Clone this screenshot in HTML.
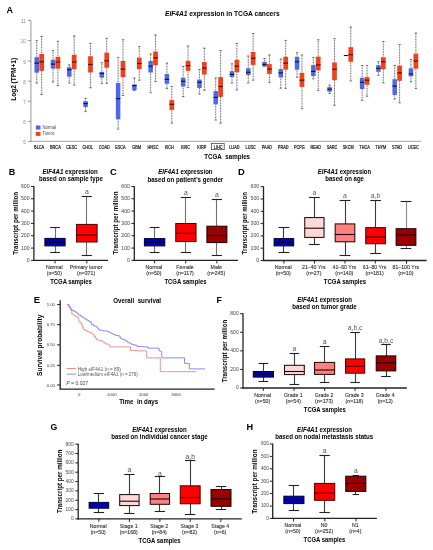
<!DOCTYPE html>
<html><head><meta charset="utf-8"><style>
html,body{margin:0;padding:0;background:#fff;}
body{width:433px;height:550px;overflow:hidden;}
svg{display:block;font-family:"Liberation Sans", sans-serif;filter:blur(0.45px);}
</style></head><body>
<svg width="433" height="550" viewBox="0 0 433 550">
<rect x="0" y="0" width="433" height="550" fill="#fff"/>
<text x="6.60" y="13.20" font-size="8.4" text-anchor="start" fill="#000" font-weight="bold" textLength="6.50" lengthAdjust="spacingAndGlyphs">A</text>
<text x="165.0" y="15.9" font-size="6.8" font-weight="bold" textLength="114.6" lengthAdjust="spacingAndGlyphs"><tspan font-style="italic">EIF4A1</tspan> expression in TCGA cancers</text>
<line x1="30.90" y1="20.40" x2="30.90" y2="141.60" stroke="#b4b4b4" stroke-width="1.4"/>
<line x1="30.20" y1="141.40" x2="421.20" y2="141.40" stroke="#b4b4b4" stroke-width="1.4"/>
<line x1="27.90" y1="20.40" x2="31.00" y2="20.40" stroke="#8a8a8a" stroke-width="0.9"/>
<text x="25.90" y="23.00" font-size="4.7" text-anchor="end" fill="#8a8a8a">11</text>
<line x1="27.90" y1="40.60" x2="31.00" y2="40.60" stroke="#8a8a8a" stroke-width="0.9"/>
<text x="25.90" y="43.20" font-size="4.7" text-anchor="end" fill="#8a8a8a">10</text>
<line x1="27.90" y1="61.10" x2="31.00" y2="61.10" stroke="#8a8a8a" stroke-width="0.9"/>
<text x="25.90" y="63.70" font-size="4.7" text-anchor="end" fill="#8a8a8a">9</text>
<line x1="27.90" y1="81.20" x2="31.00" y2="81.20" stroke="#8a8a8a" stroke-width="0.9"/>
<text x="25.90" y="83.80" font-size="4.7" text-anchor="end" fill="#8a8a8a">8</text>
<line x1="27.90" y1="101.30" x2="31.00" y2="101.30" stroke="#8a8a8a" stroke-width="0.9"/>
<text x="25.90" y="103.90" font-size="4.7" text-anchor="end" fill="#8a8a8a">7</text>
<line x1="27.90" y1="121.40" x2="31.00" y2="121.40" stroke="#8a8a8a" stroke-width="0.9"/>
<text x="25.90" y="124.00" font-size="4.7" text-anchor="end" fill="#8a8a8a">6</text>
<line x1="27.90" y1="141.40" x2="31.00" y2="141.40" stroke="#8a8a8a" stroke-width="0.9"/>
<text x="25.90" y="144.00" font-size="4.7" text-anchor="end" fill="#8a8a8a">5</text>
<text transform="translate(16.40,79.35) rotate(-90)" x="0" y="0" font-size="6.5" text-anchor="middle" fill="#000" font-weight="bold" textLength="43.00" lengthAdjust="spacingAndGlyphs">Log2 (TPM+1)</text>
<text transform="translate(39.10,148.7) scale(0.8,1)" font-size="4.8" text-anchor="middle" fill="#222" stroke="#222" stroke-width="0.22">BLCA</text>
<text transform="translate(55.37,148.7) scale(0.8,1)" font-size="4.8" text-anchor="middle" fill="#222" stroke="#222" stroke-width="0.22">BRCA</text>
<text transform="translate(71.64,148.7) scale(0.8,1)" font-size="4.8" text-anchor="middle" fill="#222" stroke="#222" stroke-width="0.22">CESC</text>
<text transform="translate(87.91,148.7) scale(0.8,1)" font-size="4.8" text-anchor="middle" fill="#222" stroke="#222" stroke-width="0.22">CHOL</text>
<text transform="translate(104.18,148.7) scale(0.8,1)" font-size="4.8" text-anchor="middle" fill="#222" stroke="#222" stroke-width="0.22">COAD</text>
<text transform="translate(120.45,148.7) scale(0.8,1)" font-size="4.8" text-anchor="middle" fill="#222" stroke="#222" stroke-width="0.22">ESCA</text>
<text transform="translate(136.72,148.7) scale(0.8,1)" font-size="4.8" text-anchor="middle" fill="#222" stroke="#222" stroke-width="0.22">GBM</text>
<text transform="translate(152.99,148.7) scale(0.8,1)" font-size="4.8" text-anchor="middle" fill="#222" stroke="#222" stroke-width="0.22">HNSC</text>
<text transform="translate(169.26,148.7) scale(0.8,1)" font-size="4.8" text-anchor="middle" fill="#222" stroke="#222" stroke-width="0.22">KICH</text>
<text transform="translate(185.53,148.7) scale(0.8,1)" font-size="4.8" text-anchor="middle" fill="#222" stroke="#222" stroke-width="0.22">KIRC</text>
<text transform="translate(201.80,148.7) scale(0.8,1)" font-size="4.8" text-anchor="middle" fill="#222" stroke="#222" stroke-width="0.22">KIRP</text>
<text transform="translate(218.07,148.7) scale(0.8,1)" font-size="4.8" text-anchor="middle" fill="#222" stroke="#222" stroke-width="0.22">LIHC</text>
<text transform="translate(234.34,148.7) scale(0.8,1)" font-size="4.8" text-anchor="middle" fill="#222" stroke="#222" stroke-width="0.22">LUAD</text>
<text transform="translate(250.61,148.7) scale(0.8,1)" font-size="4.8" text-anchor="middle" fill="#222" stroke="#222" stroke-width="0.22">LUSC</text>
<text transform="translate(266.88,148.7) scale(0.8,1)" font-size="4.8" text-anchor="middle" fill="#222" stroke="#222" stroke-width="0.22">PAAD</text>
<text transform="translate(283.15,148.7) scale(0.8,1)" font-size="4.8" text-anchor="middle" fill="#222" stroke="#222" stroke-width="0.22">PRAD</text>
<text transform="translate(299.42,148.7) scale(0.8,1)" font-size="4.8" text-anchor="middle" fill="#222" stroke="#222" stroke-width="0.22">PCPG</text>
<text transform="translate(315.69,148.7) scale(0.8,1)" font-size="4.8" text-anchor="middle" fill="#222" stroke="#222" stroke-width="0.22">READ</text>
<text transform="translate(331.96,148.7) scale(0.8,1)" font-size="4.8" text-anchor="middle" fill="#222" stroke="#222" stroke-width="0.22">SARC</text>
<text transform="translate(348.23,148.7) scale(0.8,1)" font-size="4.8" text-anchor="middle" fill="#222" stroke="#222" stroke-width="0.22">SKCM</text>
<text transform="translate(364.50,148.7) scale(0.8,1)" font-size="4.8" text-anchor="middle" fill="#222" stroke="#222" stroke-width="0.22">THCA</text>
<text transform="translate(380.77,148.7) scale(0.8,1)" font-size="4.8" text-anchor="middle" fill="#222" stroke="#222" stroke-width="0.22">THYM</text>
<text transform="translate(397.04,148.7) scale(0.8,1)" font-size="4.8" text-anchor="middle" fill="#222" stroke="#222" stroke-width="0.22">STAD</text>
<text transform="translate(413.31,148.7) scale(0.8,1)" font-size="4.8" text-anchor="middle" fill="#222" stroke="#222" stroke-width="0.22">UCEC</text>
<rect x="211.60" y="143.40" width="12.60" height="6.30" fill="none" stroke="#333" stroke-width="0.7"/>
<text x="204.20" y="158.90" font-size="6.8" text-anchor="start" fill="#000" font-weight="bold" textLength="45.90" lengthAdjust="spacingAndGlyphs">TCGA&#160;&#160;samples</text>
<rect x="35.80" y="125.50" width="4.70" height="4.10" fill="#4f69e6" stroke="none" stroke-width="0"/>
<rect x="35.80" y="131.90" width="4.70" height="4.00" fill="#f1411c" stroke="none" stroke-width="0"/>
<text x="42.40" y="128.80" font-size="4.9" text-anchor="start" fill="#444" textLength="13.50" lengthAdjust="spacingAndGlyphs">Normal</text>
<text x="42.60" y="135.00" font-size="4.9" text-anchor="start" fill="#444" textLength="11.40" lengthAdjust="spacingAndGlyphs">Tumor</text>
<line x1="36.75" y1="40.30" x2="36.75" y2="57.20" stroke="#4a4a4a" stroke-width="0.9" stroke-dasharray="0.9 0.7"/>
<line x1="36.75" y1="72.70" x2="36.75" y2="83.30" stroke="#4a4a4a" stroke-width="0.9" stroke-dasharray="0.9 0.7"/>
<line x1="35.55" y1="40.70" x2="37.95" y2="40.70" stroke="#666" stroke-width="0.9"/>
<line x1="35.55" y1="82.90" x2="37.95" y2="82.90" stroke="#666" stroke-width="0.9"/>
<rect x="34.50" y="57.20" width="4.50" height="15.50" fill="#4f69e6" stroke="none" stroke-width="0"/>
<line x1="34.50" y1="63.20" x2="39.00" y2="63.20" stroke="#101840" stroke-width="1.2"/>
<line x1="41.65" y1="36.00" x2="41.65" y2="54.00" stroke="#4a4a4a" stroke-width="0.9" stroke-dasharray="0.9 0.7"/>
<line x1="41.65" y1="70.90" x2="41.65" y2="94.90" stroke="#4a4a4a" stroke-width="0.9" stroke-dasharray="0.9 0.7"/>
<line x1="40.45" y1="36.40" x2="42.85" y2="36.40" stroke="#666" stroke-width="0.9"/>
<line x1="40.45" y1="94.50" x2="42.85" y2="94.50" stroke="#666" stroke-width="0.9"/>
<rect x="39.30" y="54.00" width="4.70" height="16.90" fill="#f1411c" stroke="none" stroke-width="0"/>
<line x1="39.30" y1="61.80" x2="44.00" y2="61.80" stroke="#5a1005" stroke-width="1.2"/>
<line x1="53.02" y1="50.30" x2="53.02" y2="59.70" stroke="#4a4a4a" stroke-width="0.9" stroke-dasharray="0.9 0.7"/>
<line x1="53.02" y1="68.70" x2="53.02" y2="82.30" stroke="#4a4a4a" stroke-width="0.9" stroke-dasharray="0.9 0.7"/>
<line x1="51.82" y1="50.70" x2="54.22" y2="50.70" stroke="#666" stroke-width="0.9"/>
<line x1="51.82" y1="81.90" x2="54.22" y2="81.90" stroke="#666" stroke-width="0.9"/>
<rect x="50.77" y="59.70" width="4.50" height="9.00" fill="#4f69e6" stroke="none" stroke-width="0"/>
<line x1="50.77" y1="64.10" x2="55.27" y2="64.10" stroke="#101840" stroke-width="1.2"/>
<line x1="57.92" y1="40.90" x2="57.92" y2="56.80" stroke="#4a4a4a" stroke-width="0.9" stroke-dasharray="0.9 0.7"/>
<line x1="57.92" y1="68.70" x2="57.92" y2="86.10" stroke="#4a4a4a" stroke-width="0.9" stroke-dasharray="0.9 0.7"/>
<line x1="56.72" y1="41.30" x2="59.12" y2="41.30" stroke="#666" stroke-width="0.9"/>
<line x1="56.72" y1="85.70" x2="59.12" y2="85.70" stroke="#666" stroke-width="0.9"/>
<rect x="55.57" y="56.80" width="4.70" height="11.90" fill="#f1411c" stroke="none" stroke-width="0"/>
<line x1="55.57" y1="62.00" x2="60.27" y2="62.00" stroke="#5a1005" stroke-width="1.2"/>
<line x1="69.29" y1="64.50" x2="69.29" y2="67.20" stroke="#4a4a4a" stroke-width="0.9" stroke-dasharray="0.9 0.7"/>
<line x1="69.29" y1="76.70" x2="69.29" y2="83.30" stroke="#4a4a4a" stroke-width="0.9" stroke-dasharray="0.9 0.7"/>
<line x1="68.09" y1="64.90" x2="70.49" y2="64.90" stroke="#666" stroke-width="0.9"/>
<line x1="68.09" y1="82.90" x2="70.49" y2="82.90" stroke="#666" stroke-width="0.9"/>
<rect x="67.04" y="67.20" width="4.50" height="9.50" fill="#4f69e6" stroke="none" stroke-width="0"/>
<line x1="67.04" y1="69.70" x2="71.54" y2="69.70" stroke="#101840" stroke-width="1.2"/>
<line x1="74.19" y1="35.60" x2="74.19" y2="54.70" stroke="#4a4a4a" stroke-width="0.9" stroke-dasharray="0.9 0.7"/>
<line x1="74.19" y1="69.30" x2="74.19" y2="85.40" stroke="#4a4a4a" stroke-width="0.9" stroke-dasharray="0.9 0.7"/>
<line x1="72.99" y1="36.00" x2="75.39" y2="36.00" stroke="#666" stroke-width="0.9"/>
<line x1="72.99" y1="85.00" x2="75.39" y2="85.00" stroke="#666" stroke-width="0.9"/>
<rect x="71.84" y="54.70" width="4.70" height="14.60" fill="#f1411c" stroke="none" stroke-width="0"/>
<line x1="71.84" y1="62.00" x2="76.54" y2="62.00" stroke="#5a1005" stroke-width="1.2"/>
<line x1="85.56" y1="98.00" x2="85.56" y2="101.10" stroke="#4a4a4a" stroke-width="0.9" stroke-dasharray="0.9 0.7"/>
<line x1="85.56" y1="107.00" x2="85.56" y2="112.00" stroke="#4a4a4a" stroke-width="0.9" stroke-dasharray="0.9 0.7"/>
<line x1="84.36" y1="98.40" x2="86.76" y2="98.40" stroke="#666" stroke-width="0.9"/>
<line x1="84.36" y1="111.60" x2="86.76" y2="111.60" stroke="#666" stroke-width="0.9"/>
<rect x="83.31" y="101.10" width="4.50" height="5.90" fill="#4f69e6" stroke="none" stroke-width="0"/>
<line x1="83.31" y1="103.60" x2="87.81" y2="103.60" stroke="#101840" stroke-width="1.2"/>
<line x1="90.46" y1="43.00" x2="90.46" y2="56.20" stroke="#4a4a4a" stroke-width="0.9" stroke-dasharray="0.9 0.7"/>
<line x1="90.46" y1="72.50" x2="90.46" y2="88.20" stroke="#4a4a4a" stroke-width="0.9" stroke-dasharray="0.9 0.7"/>
<line x1="89.26" y1="43.40" x2="91.66" y2="43.40" stroke="#666" stroke-width="0.9"/>
<line x1="89.26" y1="87.80" x2="91.66" y2="87.80" stroke="#666" stroke-width="0.9"/>
<rect x="88.11" y="56.20" width="4.70" height="16.30" fill="#f1411c" stroke="none" stroke-width="0"/>
<line x1="88.11" y1="64.50" x2="92.81" y2="64.50" stroke="#5a1005" stroke-width="1.2"/>
<line x1="101.83" y1="62.40" x2="101.83" y2="71.80" stroke="#4a4a4a" stroke-width="0.9" stroke-dasharray="0.9 0.7"/>
<line x1="101.83" y1="77.70" x2="101.83" y2="84.00" stroke="#4a4a4a" stroke-width="0.9" stroke-dasharray="0.9 0.7"/>
<line x1="100.63" y1="62.80" x2="103.03" y2="62.80" stroke="#666" stroke-width="0.9"/>
<line x1="100.63" y1="83.60" x2="103.03" y2="83.60" stroke="#666" stroke-width="0.9"/>
<rect x="99.58" y="71.80" width="4.50" height="5.90" fill="#4f69e6" stroke="none" stroke-width="0"/>
<line x1="99.58" y1="73.50" x2="104.08" y2="73.50" stroke="#101840" stroke-width="1.2"/>
<line x1="106.73" y1="38.00" x2="106.73" y2="52.60" stroke="#4a4a4a" stroke-width="0.9" stroke-dasharray="0.9 0.7"/>
<line x1="106.73" y1="67.70" x2="106.73" y2="83.80" stroke="#4a4a4a" stroke-width="0.9" stroke-dasharray="0.9 0.7"/>
<line x1="105.53" y1="38.40" x2="107.93" y2="38.40" stroke="#666" stroke-width="0.9"/>
<line x1="105.53" y1="83.40" x2="107.93" y2="83.40" stroke="#666" stroke-width="0.9"/>
<rect x="104.38" y="52.60" width="4.70" height="15.10" fill="#f1411c" stroke="none" stroke-width="0"/>
<line x1="104.38" y1="60.80" x2="109.08" y2="60.80" stroke="#5a1005" stroke-width="1.2"/>
<line x1="118.10" y1="57.20" x2="118.10" y2="82.90" stroke="#4a4a4a" stroke-width="0.9" stroke-dasharray="0.9 0.7"/>
<line x1="118.10" y1="119.30" x2="118.10" y2="129.40" stroke="#4a4a4a" stroke-width="0.9" stroke-dasharray="0.9 0.7"/>
<line x1="116.90" y1="57.60" x2="119.30" y2="57.60" stroke="#666" stroke-width="0.9"/>
<line x1="116.90" y1="129.00" x2="119.30" y2="129.00" stroke="#666" stroke-width="0.9"/>
<rect x="115.85" y="82.90" width="4.50" height="36.40" fill="#4f69e6" stroke="none" stroke-width="0"/>
<line x1="115.85" y1="98.60" x2="120.35" y2="98.60" stroke="#101840" stroke-width="1.2"/>
<line x1="123.00" y1="39.40" x2="123.00" y2="61.00" stroke="#4a4a4a" stroke-width="0.9" stroke-dasharray="0.9 0.7"/>
<line x1="123.00" y1="77.10" x2="123.00" y2="95.90" stroke="#4a4a4a" stroke-width="0.9" stroke-dasharray="0.9 0.7"/>
<line x1="121.80" y1="39.80" x2="124.20" y2="39.80" stroke="#666" stroke-width="0.9"/>
<line x1="121.80" y1="95.50" x2="124.20" y2="95.50" stroke="#666" stroke-width="0.9"/>
<rect x="120.65" y="61.00" width="4.70" height="16.10" fill="#f1411c" stroke="none" stroke-width="0"/>
<line x1="120.65" y1="69.10" x2="125.35" y2="69.10" stroke="#5a1005" stroke-width="1.2"/>
<line x1="134.37" y1="77.70" x2="134.37" y2="84.40" stroke="#4a4a4a" stroke-width="0.9" stroke-dasharray="0.9 0.7"/>
<line x1="134.37" y1="90.30" x2="134.37" y2="90.70" stroke="#4a4a4a" stroke-width="0.9" stroke-dasharray="0.9 0.7"/>
<line x1="133.17" y1="78.10" x2="135.57" y2="78.10" stroke="#666" stroke-width="0.9"/>
<line x1="133.17" y1="90.30" x2="135.57" y2="90.30" stroke="#666" stroke-width="0.9"/>
<rect x="132.12" y="84.40" width="4.50" height="5.90" fill="#4f69e6" stroke="none" stroke-width="0"/>
<line x1="132.12" y1="85.60" x2="136.62" y2="85.60" stroke="#101840" stroke-width="1.2"/>
<line x1="139.27" y1="46.30" x2="139.27" y2="57.60" stroke="#4a4a4a" stroke-width="0.9" stroke-dasharray="0.9 0.7"/>
<line x1="139.27" y1="69.10" x2="139.27" y2="80.60" stroke="#4a4a4a" stroke-width="0.9" stroke-dasharray="0.9 0.7"/>
<line x1="138.07" y1="46.70" x2="140.47" y2="46.70" stroke="#666" stroke-width="0.9"/>
<line x1="138.07" y1="80.20" x2="140.47" y2="80.20" stroke="#666" stroke-width="0.9"/>
<rect x="136.92" y="57.60" width="4.70" height="11.50" fill="#f1411c" stroke="none" stroke-width="0"/>
<line x1="136.92" y1="63.50" x2="141.62" y2="63.50" stroke="#5a1005" stroke-width="1.2"/>
<line x1="150.64" y1="53.60" x2="150.64" y2="61.00" stroke="#4a4a4a" stroke-width="0.9" stroke-dasharray="0.9 0.7"/>
<line x1="150.64" y1="72.50" x2="150.64" y2="93.20" stroke="#4a4a4a" stroke-width="0.9" stroke-dasharray="0.9 0.7"/>
<line x1="149.44" y1="54.00" x2="151.84" y2="54.00" stroke="#666" stroke-width="0.9"/>
<line x1="149.44" y1="92.80" x2="151.84" y2="92.80" stroke="#666" stroke-width="0.9"/>
<rect x="148.39" y="61.00" width="4.50" height="11.50" fill="#4f69e6" stroke="none" stroke-width="0"/>
<line x1="148.39" y1="66.20" x2="152.89" y2="66.20" stroke="#101840" stroke-width="1.2"/>
<line x1="155.54" y1="34.60" x2="155.54" y2="51.50" stroke="#4a4a4a" stroke-width="0.9" stroke-dasharray="0.9 0.7"/>
<line x1="155.54" y1="65.10" x2="155.54" y2="81.90" stroke="#4a4a4a" stroke-width="0.9" stroke-dasharray="0.9 0.7"/>
<line x1="154.34" y1="35.00" x2="156.74" y2="35.00" stroke="#666" stroke-width="0.9"/>
<line x1="154.34" y1="81.50" x2="156.74" y2="81.50" stroke="#666" stroke-width="0.9"/>
<rect x="153.19" y="51.50" width="4.70" height="13.60" fill="#f1411c" stroke="none" stroke-width="0"/>
<line x1="153.19" y1="57.80" x2="157.89" y2="57.80" stroke="#5a1005" stroke-width="1.2"/>
<line x1="166.91" y1="62.80" x2="166.91" y2="73.90" stroke="#4a4a4a" stroke-width="0.9" stroke-dasharray="0.9 0.7"/>
<line x1="166.91" y1="83.80" x2="166.91" y2="89.00" stroke="#4a4a4a" stroke-width="0.9" stroke-dasharray="0.9 0.7"/>
<line x1="165.71" y1="63.20" x2="168.11" y2="63.20" stroke="#666" stroke-width="0.9"/>
<line x1="165.71" y1="88.60" x2="168.11" y2="88.60" stroke="#666" stroke-width="0.9"/>
<rect x="164.66" y="73.90" width="4.50" height="9.90" fill="#4f69e6" stroke="none" stroke-width="0"/>
<line x1="164.66" y1="79.40" x2="169.16" y2="79.40" stroke="#101840" stroke-width="1.2"/>
<line x1="171.81" y1="86.10" x2="171.81" y2="100.10" stroke="#4a4a4a" stroke-width="0.9" stroke-dasharray="0.9 0.7"/>
<line x1="171.81" y1="109.90" x2="171.81" y2="123.50" stroke="#4a4a4a" stroke-width="0.9" stroke-dasharray="0.9 0.7"/>
<line x1="170.61" y1="86.50" x2="173.01" y2="86.50" stroke="#666" stroke-width="0.9"/>
<line x1="170.61" y1="123.10" x2="173.01" y2="123.10" stroke="#666" stroke-width="0.9"/>
<rect x="169.46" y="100.10" width="4.70" height="9.80" fill="#f1411c" stroke="none" stroke-width="0"/>
<line x1="169.46" y1="104.30" x2="174.16" y2="104.30" stroke="#5a1005" stroke-width="1.2"/>
<line x1="183.18" y1="66.00" x2="183.18" y2="77.70" stroke="#4a4a4a" stroke-width="0.9" stroke-dasharray="0.9 0.7"/>
<line x1="183.18" y1="86.50" x2="183.18" y2="96.90" stroke="#4a4a4a" stroke-width="0.9" stroke-dasharray="0.9 0.7"/>
<line x1="181.98" y1="66.40" x2="184.38" y2="66.40" stroke="#666" stroke-width="0.9"/>
<line x1="181.98" y1="96.50" x2="184.38" y2="96.50" stroke="#666" stroke-width="0.9"/>
<rect x="180.93" y="77.70" width="4.50" height="8.80" fill="#4f69e6" stroke="none" stroke-width="0"/>
<line x1="180.93" y1="81.30" x2="185.43" y2="81.30" stroke="#101840" stroke-width="1.2"/>
<line x1="188.08" y1="45.70" x2="188.08" y2="60.80" stroke="#4a4a4a" stroke-width="0.9" stroke-dasharray="0.9 0.7"/>
<line x1="188.08" y1="70.80" x2="188.08" y2="88.00" stroke="#4a4a4a" stroke-width="0.9" stroke-dasharray="0.9 0.7"/>
<line x1="186.88" y1="46.10" x2="189.28" y2="46.10" stroke="#666" stroke-width="0.9"/>
<line x1="186.88" y1="87.60" x2="189.28" y2="87.60" stroke="#666" stroke-width="0.9"/>
<rect x="185.73" y="60.80" width="4.70" height="10.00" fill="#f1411c" stroke="none" stroke-width="0"/>
<line x1="185.73" y1="65.60" x2="190.43" y2="65.60" stroke="#5a1005" stroke-width="1.2"/>
<line x1="199.45" y1="69.10" x2="199.45" y2="79.60" stroke="#4a4a4a" stroke-width="0.9" stroke-dasharray="0.9 0.7"/>
<line x1="199.45" y1="88.00" x2="199.45" y2="94.40" stroke="#4a4a4a" stroke-width="0.9" stroke-dasharray="0.9 0.7"/>
<line x1="198.25" y1="69.50" x2="200.65" y2="69.50" stroke="#666" stroke-width="0.9"/>
<line x1="198.25" y1="94.00" x2="200.65" y2="94.00" stroke="#666" stroke-width="0.9"/>
<rect x="197.20" y="79.60" width="4.50" height="8.40" fill="#4f69e6" stroke="none" stroke-width="0"/>
<line x1="197.20" y1="82.30" x2="201.70" y2="82.30" stroke="#101840" stroke-width="1.2"/>
<line x1="204.35" y1="47.80" x2="204.35" y2="62.00" stroke="#4a4a4a" stroke-width="0.9" stroke-dasharray="0.9 0.7"/>
<line x1="204.35" y1="74.60" x2="204.35" y2="90.70" stroke="#4a4a4a" stroke-width="0.9" stroke-dasharray="0.9 0.7"/>
<line x1="203.15" y1="48.20" x2="205.55" y2="48.20" stroke="#666" stroke-width="0.9"/>
<line x1="203.15" y1="90.30" x2="205.55" y2="90.30" stroke="#666" stroke-width="0.9"/>
<rect x="202.00" y="62.00" width="4.70" height="12.60" fill="#f1411c" stroke="none" stroke-width="0"/>
<line x1="202.00" y1="68.10" x2="206.70" y2="68.10" stroke="#5a1005" stroke-width="1.2"/>
<line x1="215.72" y1="77.70" x2="215.72" y2="91.10" stroke="#4a4a4a" stroke-width="0.9" stroke-dasharray="0.9 0.7"/>
<line x1="215.72" y1="104.30" x2="215.72" y2="120.40" stroke="#4a4a4a" stroke-width="0.9" stroke-dasharray="0.9 0.7"/>
<line x1="214.52" y1="78.10" x2="216.92" y2="78.10" stroke="#666" stroke-width="0.9"/>
<line x1="214.52" y1="120.00" x2="216.92" y2="120.00" stroke="#666" stroke-width="0.9"/>
<rect x="213.47" y="91.10" width="4.50" height="13.20" fill="#4f69e6" stroke="none" stroke-width="0"/>
<line x1="213.47" y1="97.40" x2="217.97" y2="97.40" stroke="#101840" stroke-width="1.2"/>
<line x1="220.62" y1="50.30" x2="220.62" y2="77.10" stroke="#4a4a4a" stroke-width="0.9" stroke-dasharray="0.9 0.7"/>
<line x1="220.62" y1="96.90" x2="220.62" y2="123.50" stroke="#4a4a4a" stroke-width="0.9" stroke-dasharray="0.9 0.7"/>
<line x1="219.42" y1="50.70" x2="221.82" y2="50.70" stroke="#666" stroke-width="0.9"/>
<line x1="219.42" y1="123.10" x2="221.82" y2="123.10" stroke="#666" stroke-width="0.9"/>
<rect x="218.27" y="77.10" width="4.70" height="19.80" fill="#f1411c" stroke="none" stroke-width="0"/>
<line x1="218.27" y1="86.50" x2="222.97" y2="86.50" stroke="#5a1005" stroke-width="1.2"/>
<line x1="231.99" y1="63.50" x2="231.99" y2="71.20" stroke="#4a4a4a" stroke-width="0.9" stroke-dasharray="0.9 0.7"/>
<line x1="231.99" y1="77.10" x2="231.99" y2="83.30" stroke="#4a4a4a" stroke-width="0.9" stroke-dasharray="0.9 0.7"/>
<line x1="230.79" y1="63.90" x2="233.19" y2="63.90" stroke="#666" stroke-width="0.9"/>
<line x1="230.79" y1="82.90" x2="233.19" y2="82.90" stroke="#666" stroke-width="0.9"/>
<rect x="229.74" y="71.20" width="4.50" height="5.90" fill="#4f69e6" stroke="none" stroke-width="0"/>
<line x1="229.74" y1="74.40" x2="234.24" y2="74.40" stroke="#101840" stroke-width="1.2"/>
<line x1="236.89" y1="43.20" x2="236.89" y2="59.70" stroke="#4a4a4a" stroke-width="0.9" stroke-dasharray="0.9 0.7"/>
<line x1="236.89" y1="72.30" x2="236.89" y2="90.30" stroke="#4a4a4a" stroke-width="0.9" stroke-dasharray="0.9 0.7"/>
<line x1="235.69" y1="43.60" x2="238.09" y2="43.60" stroke="#666" stroke-width="0.9"/>
<line x1="235.69" y1="89.90" x2="238.09" y2="89.90" stroke="#666" stroke-width="0.9"/>
<rect x="234.54" y="59.70" width="4.70" height="12.60" fill="#f1411c" stroke="none" stroke-width="0"/>
<line x1="234.54" y1="66.20" x2="239.24" y2="66.20" stroke="#5a1005" stroke-width="1.2"/>
<line x1="248.26" y1="55.70" x2="248.26" y2="68.30" stroke="#4a4a4a" stroke-width="0.9" stroke-dasharray="0.9 0.7"/>
<line x1="248.26" y1="75.00" x2="248.26" y2="83.30" stroke="#4a4a4a" stroke-width="0.9" stroke-dasharray="0.9 0.7"/>
<line x1="247.06" y1="56.10" x2="249.46" y2="56.10" stroke="#666" stroke-width="0.9"/>
<line x1="247.06" y1="82.90" x2="249.46" y2="82.90" stroke="#666" stroke-width="0.9"/>
<rect x="246.01" y="68.30" width="4.50" height="6.70" fill="#4f69e6" stroke="none" stroke-width="0"/>
<line x1="246.01" y1="72.30" x2="250.51" y2="72.30" stroke="#101840" stroke-width="1.2"/>
<line x1="253.16" y1="33.10" x2="253.16" y2="52.00" stroke="#4a4a4a" stroke-width="0.9" stroke-dasharray="0.9 0.7"/>
<line x1="253.16" y1="64.90" x2="253.16" y2="80.60" stroke="#4a4a4a" stroke-width="0.9" stroke-dasharray="0.9 0.7"/>
<line x1="251.96" y1="33.50" x2="254.36" y2="33.50" stroke="#666" stroke-width="0.9"/>
<line x1="251.96" y1="80.20" x2="254.36" y2="80.20" stroke="#666" stroke-width="0.9"/>
<rect x="250.81" y="52.00" width="4.70" height="12.90" fill="#f1411c" stroke="none" stroke-width="0"/>
<line x1="250.81" y1="58.20" x2="255.51" y2="58.20" stroke="#5a1005" stroke-width="1.2"/>
<line x1="264.53" y1="58.20" x2="264.53" y2="61.80" stroke="#4a4a4a" stroke-width="0.9" stroke-dasharray="0.9 0.7"/>
<line x1="264.53" y1="66.60" x2="264.53" y2="66.60" stroke="#4a4a4a" stroke-width="0.9" stroke-dasharray="0.9 0.7"/>
<line x1="263.33" y1="58.60" x2="265.73" y2="58.60" stroke="#666" stroke-width="0.9"/>
<line x1="263.33" y1="66.20" x2="265.73" y2="66.20" stroke="#666" stroke-width="0.9"/>
<rect x="262.28" y="61.80" width="4.50" height="4.80" fill="#4f69e6" stroke="none" stroke-width="0"/>
<line x1="262.28" y1="64.50" x2="266.78" y2="64.50" stroke="#101840" stroke-width="1.2"/>
<line x1="269.43" y1="54.70" x2="269.43" y2="64.10" stroke="#4a4a4a" stroke-width="0.9" stroke-dasharray="0.9 0.7"/>
<line x1="269.43" y1="73.90" x2="269.43" y2="82.70" stroke="#4a4a4a" stroke-width="0.9" stroke-dasharray="0.9 0.7"/>
<line x1="268.23" y1="55.10" x2="270.63" y2="55.10" stroke="#666" stroke-width="0.9"/>
<line x1="268.23" y1="82.30" x2="270.63" y2="82.30" stroke="#666" stroke-width="0.9"/>
<rect x="267.08" y="64.10" width="4.70" height="9.80" fill="#f1411c" stroke="none" stroke-width="0"/>
<line x1="267.08" y1="69.10" x2="271.78" y2="69.10" stroke="#5a1005" stroke-width="1.2"/>
<line x1="280.80" y1="58.70" x2="280.80" y2="69.10" stroke="#4a4a4a" stroke-width="0.9" stroke-dasharray="0.9 0.7"/>
<line x1="280.80" y1="77.50" x2="280.80" y2="88.60" stroke="#4a4a4a" stroke-width="0.9" stroke-dasharray="0.9 0.7"/>
<line x1="279.60" y1="59.10" x2="282.00" y2="59.10" stroke="#666" stroke-width="0.9"/>
<line x1="279.60" y1="88.20" x2="282.00" y2="88.20" stroke="#666" stroke-width="0.9"/>
<rect x="278.55" y="69.10" width="4.50" height="8.40" fill="#4f69e6" stroke="none" stroke-width="0"/>
<line x1="278.55" y1="72.90" x2="283.05" y2="72.90" stroke="#101840" stroke-width="1.2"/>
<line x1="285.70" y1="40.00" x2="285.70" y2="56.80" stroke="#4a4a4a" stroke-width="0.9" stroke-dasharray="0.9 0.7"/>
<line x1="285.70" y1="69.70" x2="285.70" y2="89.00" stroke="#4a4a4a" stroke-width="0.9" stroke-dasharray="0.9 0.7"/>
<line x1="284.50" y1="40.40" x2="286.90" y2="40.40" stroke="#666" stroke-width="0.9"/>
<line x1="284.50" y1="88.60" x2="286.90" y2="88.60" stroke="#666" stroke-width="0.9"/>
<rect x="283.35" y="56.80" width="4.70" height="12.90" fill="#f1411c" stroke="none" stroke-width="0"/>
<line x1="283.35" y1="63.10" x2="288.05" y2="63.10" stroke="#5a1005" stroke-width="1.2"/>
<line x1="297.07" y1="52.40" x2="297.07" y2="56.80" stroke="#4a4a4a" stroke-width="0.9" stroke-dasharray="0.9 0.7"/>
<line x1="297.07" y1="69.70" x2="297.07" y2="77.70" stroke="#4a4a4a" stroke-width="0.9" stroke-dasharray="0.9 0.7"/>
<line x1="295.87" y1="52.80" x2="298.27" y2="52.80" stroke="#666" stroke-width="0.9"/>
<line x1="295.87" y1="77.30" x2="298.27" y2="77.30" stroke="#666" stroke-width="0.9"/>
<rect x="294.82" y="56.80" width="4.50" height="12.90" fill="#4f69e6" stroke="none" stroke-width="0"/>
<line x1="294.82" y1="61.80" x2="299.32" y2="61.80" stroke="#101840" stroke-width="1.2"/>
<line x1="301.97" y1="54.70" x2="301.97" y2="72.90" stroke="#4a4a4a" stroke-width="0.9" stroke-dasharray="0.9 0.7"/>
<line x1="301.97" y1="86.90" x2="301.97" y2="109.10" stroke="#4a4a4a" stroke-width="0.9" stroke-dasharray="0.9 0.7"/>
<line x1="300.77" y1="55.10" x2="303.17" y2="55.10" stroke="#666" stroke-width="0.9"/>
<line x1="300.77" y1="108.70" x2="303.17" y2="108.70" stroke="#666" stroke-width="0.9"/>
<rect x="299.62" y="72.90" width="4.70" height="14.00" fill="#f1411c" stroke="none" stroke-width="0"/>
<line x1="299.62" y1="80.20" x2="304.32" y2="80.20" stroke="#5a1005" stroke-width="1.2"/>
<line x1="313.34" y1="57.20" x2="313.34" y2="65.10" stroke="#4a4a4a" stroke-width="0.9" stroke-dasharray="0.9 0.7"/>
<line x1="313.34" y1="76.00" x2="313.34" y2="79.20" stroke="#4a4a4a" stroke-width="0.9" stroke-dasharray="0.9 0.7"/>
<line x1="312.14" y1="57.60" x2="314.54" y2="57.60" stroke="#666" stroke-width="0.9"/>
<line x1="312.14" y1="78.80" x2="314.54" y2="78.80" stroke="#666" stroke-width="0.9"/>
<rect x="311.09" y="65.10" width="4.50" height="10.90" fill="#4f69e6" stroke="none" stroke-width="0"/>
<line x1="311.09" y1="71.40" x2="315.59" y2="71.40" stroke="#101840" stroke-width="1.2"/>
<line x1="318.24" y1="39.40" x2="318.24" y2="56.60" stroke="#4a4a4a" stroke-width="0.9" stroke-dasharray="0.9 0.7"/>
<line x1="318.24" y1="70.40" x2="318.24" y2="90.70" stroke="#4a4a4a" stroke-width="0.9" stroke-dasharray="0.9 0.7"/>
<line x1="317.04" y1="39.80" x2="319.44" y2="39.80" stroke="#666" stroke-width="0.9"/>
<line x1="317.04" y1="90.30" x2="319.44" y2="90.30" stroke="#666" stroke-width="0.9"/>
<rect x="315.89" y="56.60" width="4.70" height="13.80" fill="#f1411c" stroke="none" stroke-width="0"/>
<line x1="315.89" y1="64.90" x2="320.59" y2="64.90" stroke="#5a1005" stroke-width="1.2"/>
<line x1="329.61" y1="84.80" x2="329.61" y2="87.10" stroke="#4a4a4a" stroke-width="0.9" stroke-dasharray="0.9 0.7"/>
<line x1="329.61" y1="91.70" x2="329.61" y2="93.80" stroke="#4a4a4a" stroke-width="0.9" stroke-dasharray="0.9 0.7"/>
<line x1="328.41" y1="85.20" x2="330.81" y2="85.20" stroke="#666" stroke-width="0.9"/>
<line x1="328.41" y1="93.40" x2="330.81" y2="93.40" stroke="#666" stroke-width="0.9"/>
<rect x="327.36" y="87.10" width="4.50" height="4.60" fill="#4f69e6" stroke="none" stroke-width="0"/>
<line x1="327.36" y1="89.20" x2="331.86" y2="89.20" stroke="#101840" stroke-width="1.2"/>
<line x1="334.51" y1="38.30" x2="334.51" y2="62.40" stroke="#4a4a4a" stroke-width="0.9" stroke-dasharray="0.9 0.7"/>
<line x1="334.51" y1="80.20" x2="334.51" y2="105.70" stroke="#4a4a4a" stroke-width="0.9" stroke-dasharray="0.9 0.7"/>
<line x1="333.31" y1="38.70" x2="335.71" y2="38.70" stroke="#666" stroke-width="0.9"/>
<line x1="333.31" y1="105.30" x2="335.71" y2="105.30" stroke="#666" stroke-width="0.9"/>
<rect x="332.16" y="62.40" width="4.70" height="17.80" fill="#f1411c" stroke="none" stroke-width="0"/>
<line x1="332.16" y1="69.30" x2="336.86" y2="69.30" stroke="#5a1005" stroke-width="1.2"/>
<line x1="343.83" y1="55.50" x2="348.13" y2="55.50" stroke="#111" stroke-width="1.1"/>
<line x1="350.78" y1="26.60" x2="350.78" y2="47.20" stroke="#4a4a4a" stroke-width="0.9" stroke-dasharray="0.9 0.7"/>
<line x1="350.78" y1="61.80" x2="350.78" y2="81.30" stroke="#4a4a4a" stroke-width="0.9" stroke-dasharray="0.9 0.7"/>
<line x1="349.58" y1="27.00" x2="351.98" y2="27.00" stroke="#666" stroke-width="0.9"/>
<line x1="349.58" y1="80.90" x2="351.98" y2="80.90" stroke="#666" stroke-width="0.9"/>
<rect x="348.43" y="47.20" width="4.70" height="14.60" fill="#f1411c" stroke="none" stroke-width="0"/>
<line x1="348.43" y1="54.70" x2="353.13" y2="54.70" stroke="#5a1005" stroke-width="1.2"/>
<line x1="362.15" y1="65.10" x2="362.15" y2="77.70" stroke="#4a4a4a" stroke-width="0.9" stroke-dasharray="0.9 0.7"/>
<line x1="362.15" y1="89.00" x2="362.15" y2="100.70" stroke="#4a4a4a" stroke-width="0.9" stroke-dasharray="0.9 0.7"/>
<line x1="360.95" y1="65.50" x2="363.35" y2="65.50" stroke="#666" stroke-width="0.9"/>
<line x1="360.95" y1="100.30" x2="363.35" y2="100.30" stroke="#666" stroke-width="0.9"/>
<rect x="359.90" y="77.70" width="4.50" height="11.30" fill="#4f69e6" stroke="none" stroke-width="0"/>
<line x1="359.90" y1="82.30" x2="364.40" y2="82.30" stroke="#101840" stroke-width="1.2"/>
<line x1="367.05" y1="65.10" x2="367.05" y2="77.10" stroke="#4a4a4a" stroke-width="0.9" stroke-dasharray="0.9 0.7"/>
<line x1="367.05" y1="84.80" x2="367.05" y2="96.50" stroke="#4a4a4a" stroke-width="0.9" stroke-dasharray="0.9 0.7"/>
<line x1="365.85" y1="65.50" x2="368.25" y2="65.50" stroke="#666" stroke-width="0.9"/>
<line x1="365.85" y1="96.10" x2="368.25" y2="96.10" stroke="#666" stroke-width="0.9"/>
<rect x="364.70" y="77.10" width="4.70" height="7.70" fill="#f1411c" stroke="none" stroke-width="0"/>
<line x1="364.70" y1="80.20" x2="369.40" y2="80.20" stroke="#5a1005" stroke-width="1.2"/>
<line x1="378.42" y1="61.40" x2="378.42" y2="65.10" stroke="#4a4a4a" stroke-width="0.9" stroke-dasharray="0.9 0.7"/>
<line x1="378.42" y1="71.80" x2="378.42" y2="75.60" stroke="#4a4a4a" stroke-width="0.9" stroke-dasharray="0.9 0.7"/>
<line x1="377.22" y1="61.80" x2="379.62" y2="61.80" stroke="#666" stroke-width="0.9"/>
<line x1="377.22" y1="75.20" x2="379.62" y2="75.20" stroke="#666" stroke-width="0.9"/>
<rect x="376.17" y="65.10" width="4.50" height="6.70" fill="#4f69e6" stroke="none" stroke-width="0"/>
<line x1="376.17" y1="68.30" x2="380.67" y2="68.30" stroke="#101840" stroke-width="1.2"/>
<line x1="383.32" y1="41.10" x2="383.32" y2="57.20" stroke="#4a4a4a" stroke-width="0.9" stroke-dasharray="0.9 0.7"/>
<line x1="383.32" y1="69.10" x2="383.32" y2="83.30" stroke="#4a4a4a" stroke-width="0.9" stroke-dasharray="0.9 0.7"/>
<line x1="382.12" y1="41.50" x2="384.52" y2="41.50" stroke="#666" stroke-width="0.9"/>
<line x1="382.12" y1="82.90" x2="384.52" y2="82.90" stroke="#666" stroke-width="0.9"/>
<rect x="380.97" y="57.20" width="4.70" height="11.90" fill="#f1411c" stroke="none" stroke-width="0"/>
<line x1="380.97" y1="61.80" x2="385.67" y2="61.80" stroke="#5a1005" stroke-width="1.2"/>
<line x1="394.69" y1="65.10" x2="394.69" y2="79.20" stroke="#4a4a4a" stroke-width="0.9" stroke-dasharray="0.9 0.7"/>
<line x1="394.69" y1="94.90" x2="394.69" y2="99.50" stroke="#4a4a4a" stroke-width="0.9" stroke-dasharray="0.9 0.7"/>
<line x1="393.49" y1="65.50" x2="395.89" y2="65.50" stroke="#666" stroke-width="0.9"/>
<line x1="393.49" y1="99.10" x2="395.89" y2="99.10" stroke="#666" stroke-width="0.9"/>
<rect x="392.44" y="79.20" width="4.50" height="15.70" fill="#4f69e6" stroke="none" stroke-width="0"/>
<line x1="392.44" y1="86.10" x2="396.94" y2="86.10" stroke="#101840" stroke-width="1.2"/>
<line x1="399.59" y1="44.20" x2="399.59" y2="65.60" stroke="#4a4a4a" stroke-width="0.9" stroke-dasharray="0.9 0.7"/>
<line x1="399.59" y1="80.80" x2="399.59" y2="103.20" stroke="#4a4a4a" stroke-width="0.9" stroke-dasharray="0.9 0.7"/>
<line x1="398.39" y1="44.60" x2="400.79" y2="44.60" stroke="#666" stroke-width="0.9"/>
<line x1="398.39" y1="102.80" x2="400.79" y2="102.80" stroke="#666" stroke-width="0.9"/>
<rect x="397.24" y="65.60" width="4.70" height="15.20" fill="#f1411c" stroke="none" stroke-width="0"/>
<line x1="397.24" y1="72.90" x2="401.94" y2="72.90" stroke="#5a1005" stroke-width="1.2"/>
<line x1="410.96" y1="59.30" x2="410.96" y2="68.30" stroke="#4a4a4a" stroke-width="0.9" stroke-dasharray="0.9 0.7"/>
<line x1="410.96" y1="76.40" x2="410.96" y2="82.30" stroke="#4a4a4a" stroke-width="0.9" stroke-dasharray="0.9 0.7"/>
<line x1="409.76" y1="59.70" x2="412.16" y2="59.70" stroke="#666" stroke-width="0.9"/>
<line x1="409.76" y1="81.90" x2="412.16" y2="81.90" stroke="#666" stroke-width="0.9"/>
<rect x="408.71" y="68.30" width="4.50" height="8.10" fill="#4f69e6" stroke="none" stroke-width="0"/>
<line x1="408.71" y1="73.90" x2="413.21" y2="73.90" stroke="#101840" stroke-width="1.2"/>
<line x1="415.86" y1="32.70" x2="415.86" y2="53.60" stroke="#4a4a4a" stroke-width="0.9" stroke-dasharray="0.9 0.7"/>
<line x1="415.86" y1="68.70" x2="415.86" y2="89.00" stroke="#4a4a4a" stroke-width="0.9" stroke-dasharray="0.9 0.7"/>
<line x1="414.66" y1="33.10" x2="417.06" y2="33.10" stroke="#666" stroke-width="0.9"/>
<line x1="414.66" y1="88.60" x2="417.06" y2="88.60" stroke="#666" stroke-width="0.9"/>
<rect x="413.51" y="53.60" width="4.70" height="15.10" fill="#f1411c" stroke="none" stroke-width="0"/>
<line x1="413.51" y1="61.00" x2="418.21" y2="61.00" stroke="#5a1005" stroke-width="1.2"/>
<text x="8.70" y="174.90" font-size="8.4" text-anchor="start" fill="#000" font-weight="bold" textLength="6.50" lengthAdjust="spacingAndGlyphs">B</text>
<text x="70.1" y="174.1" font-size="6.5" font-weight="bold" text-anchor="middle" textLength="55.2" lengthAdjust="spacingAndGlyphs"><tspan font-style="italic">EIF4A1</tspan> expression</text>
<text x="70.95" y="181.30" font-size="6.5" text-anchor="middle" fill="#000" font-weight="bold" textLength="63.70" lengthAdjust="spacingAndGlyphs">based on sample type</text>
<text transform="translate(17.55,223.30) rotate(-90)" x="0" y="0" font-size="6.6" text-anchor="middle" fill="#000" font-weight="bold" textLength="62.90" lengthAdjust="spacingAndGlyphs">Transcript per million</text>
<line x1="33.90" y1="185.92" x2="33.90" y2="260.90" stroke="#222" stroke-width="1.3"/>
<line x1="31.00" y1="260.40" x2="33.90" y2="260.40" stroke="#222" stroke-width="1.0"/>
<text x="29.60" y="261.86" font-size="5.2" text-anchor="end" fill="#444">0</text>
<line x1="31.00" y1="248.07" x2="33.90" y2="248.07" stroke="#222" stroke-width="1.0"/>
<text x="29.60" y="249.53" font-size="5.2" text-anchor="end" fill="#444">100</text>
<line x1="31.00" y1="235.74" x2="33.90" y2="235.74" stroke="#222" stroke-width="1.0"/>
<text x="29.60" y="237.20" font-size="5.2" text-anchor="end" fill="#444">200</text>
<line x1="31.00" y1="223.41" x2="33.90" y2="223.41" stroke="#222" stroke-width="1.0"/>
<text x="29.60" y="224.87" font-size="5.2" text-anchor="end" fill="#444">300</text>
<line x1="31.00" y1="211.08" x2="33.90" y2="211.08" stroke="#222" stroke-width="1.0"/>
<text x="29.60" y="212.54" font-size="5.2" text-anchor="end" fill="#444">400</text>
<line x1="31.00" y1="198.75" x2="33.90" y2="198.75" stroke="#222" stroke-width="1.0"/>
<text x="29.60" y="200.21" font-size="5.2" text-anchor="end" fill="#444">500</text>
<line x1="31.00" y1="186.42" x2="33.90" y2="186.42" stroke="#222" stroke-width="1.0"/>
<text x="29.60" y="187.88" font-size="5.2" text-anchor="end" fill="#444">600</text>
<line x1="33.30" y1="260.40" x2="108.00" y2="260.40" stroke="#222" stroke-width="1.3"/>
<line x1="55.00" y1="260.40" x2="55.00" y2="263.40" stroke="#222" stroke-width="1.0"/>
<line x1="86.80" y1="260.40" x2="86.80" y2="263.40" stroke="#222" stroke-width="1.0"/>
<line x1="55.50" y1="227.60" x2="55.50" y2="238.40" stroke="#707070" stroke-width="1.1"/>
<line x1="55.50" y1="245.90" x2="55.50" y2="252.20" stroke="#707070" stroke-width="1.1"/>
<line x1="50.10" y1="227.50" x2="59.90" y2="227.50" stroke="#222" stroke-width="1.1"/>
<line x1="50.10" y1="252.50" x2="59.90" y2="252.50" stroke="#222" stroke-width="1.1"/>
<rect x="44.90" y="238.40" width="20.20" height="7.50" fill="#0000b8" stroke="#000030" stroke-width="1.0"/>
<line x1="44.90" y1="242.40" x2="65.10" y2="242.40" stroke="#000030" stroke-width="1.1"/>
<line x1="86.50" y1="196.70" x2="86.50" y2="224.40" stroke="#707070" stroke-width="1.1"/>
<line x1="86.50" y1="242.00" x2="86.50" y2="255.10" stroke="#707070" stroke-width="1.1"/>
<line x1="81.70" y1="196.50" x2="91.90" y2="196.50" stroke="#222" stroke-width="1.1"/>
<line x1="81.70" y1="255.50" x2="91.90" y2="255.50" stroke="#222" stroke-width="1.1"/>
<rect x="76.50" y="224.40" width="20.60" height="17.60" fill="#ff0000" stroke="#4a0000" stroke-width="1.0"/>
<line x1="76.50" y1="235.00" x2="97.10" y2="235.00" stroke="#4a0000" stroke-width="1.1"/>
<text x="86.80" y="193.50" font-size="6.8" text-anchor="middle" fill="#555">a</text>
<text x="54.30" y="268.90" font-size="5.2" text-anchor="middle" fill="#333" stroke="#333" stroke-width="0.12">Normal</text>
<text x="54.30" y="274.80" font-size="5.2" text-anchor="middle" fill="#333" stroke="#333" stroke-width="0.12">(n=50)</text>
<text x="86.10" y="268.90" font-size="5.2" text-anchor="middle" fill="#333" stroke="#333" stroke-width="0.12">Primary tumor</text>
<text x="86.10" y="274.80" font-size="5.2" text-anchor="middle" fill="#333" stroke="#333" stroke-width="0.12">(n=371)</text>
<text x="71.05" y="284.10" font-size="6.5" text-anchor="middle" fill="#000" font-weight="bold" textLength="41.70" lengthAdjust="spacingAndGlyphs">TCGA samples</text>
<text x="110.10" y="174.90" font-size="8.4" text-anchor="start" fill="#000" font-weight="bold" textLength="6.80" lengthAdjust="spacingAndGlyphs">C</text>
<text x="185.45" y="174.2" font-size="6.5" font-weight="bold" text-anchor="middle" textLength="54.3" lengthAdjust="spacingAndGlyphs"><tspan font-style="italic">EIF4A1</tspan> expression</text>
<text x="185.30" y="181.50" font-size="6.5" text-anchor="middle" fill="#000" font-weight="bold" textLength="75.80" lengthAdjust="spacingAndGlyphs">based on patient's gender</text>
<text transform="translate(117.75,222.90) rotate(-90)" x="0" y="0" font-size="6.6" text-anchor="middle" fill="#000" font-weight="bold" textLength="63.00" lengthAdjust="spacingAndGlyphs">Transcript per million</text>
<line x1="134.30" y1="185.92" x2="134.30" y2="260.90" stroke="#222" stroke-width="1.3"/>
<line x1="131.40" y1="260.40" x2="134.30" y2="260.40" stroke="#222" stroke-width="1.0"/>
<text x="130.00" y="261.86" font-size="5.2" text-anchor="end" fill="#444">0</text>
<line x1="131.40" y1="248.07" x2="134.30" y2="248.07" stroke="#222" stroke-width="1.0"/>
<text x="130.00" y="249.53" font-size="5.2" text-anchor="end" fill="#444">100</text>
<line x1="131.40" y1="235.74" x2="134.30" y2="235.74" stroke="#222" stroke-width="1.0"/>
<text x="130.00" y="237.20" font-size="5.2" text-anchor="end" fill="#444">200</text>
<line x1="131.40" y1="223.41" x2="134.30" y2="223.41" stroke="#222" stroke-width="1.0"/>
<text x="130.00" y="224.87" font-size="5.2" text-anchor="end" fill="#444">300</text>
<line x1="131.40" y1="211.08" x2="134.30" y2="211.08" stroke="#222" stroke-width="1.0"/>
<text x="130.00" y="212.54" font-size="5.2" text-anchor="end" fill="#444">400</text>
<line x1="131.40" y1="198.75" x2="134.30" y2="198.75" stroke="#222" stroke-width="1.0"/>
<text x="130.00" y="200.21" font-size="5.2" text-anchor="end" fill="#444">500</text>
<line x1="131.40" y1="186.42" x2="134.30" y2="186.42" stroke="#222" stroke-width="1.0"/>
<text x="130.00" y="187.88" font-size="5.2" text-anchor="end" fill="#444">600</text>
<line x1="133.70" y1="260.40" x2="238.00" y2="260.40" stroke="#222" stroke-width="1.3"/>
<line x1="154.60" y1="260.40" x2="154.60" y2="263.40" stroke="#222" stroke-width="1.0"/>
<line x1="185.70" y1="260.40" x2="185.70" y2="263.40" stroke="#222" stroke-width="1.0"/>
<line x1="216.90" y1="260.40" x2="216.90" y2="263.40" stroke="#222" stroke-width="1.0"/>
<line x1="154.50" y1="227.60" x2="154.50" y2="238.60" stroke="#707070" stroke-width="1.1"/>
<line x1="154.50" y1="245.90" x2="154.50" y2="252.20" stroke="#707070" stroke-width="1.1"/>
<line x1="149.70" y1="227.50" x2="159.50" y2="227.50" stroke="#222" stroke-width="1.1"/>
<line x1="149.70" y1="252.50" x2="159.50" y2="252.50" stroke="#222" stroke-width="1.1"/>
<rect x="144.40" y="238.60" width="20.40" height="7.30" fill="#0000b8" stroke="#000030" stroke-width="1.0"/>
<line x1="144.40" y1="242.30" x2="164.80" y2="242.30" stroke="#000030" stroke-width="1.1"/>
<line x1="185.50" y1="197.20" x2="185.50" y2="223.50" stroke="#707070" stroke-width="1.1"/>
<line x1="185.50" y1="241.60" x2="185.50" y2="252.60" stroke="#707070" stroke-width="1.1"/>
<line x1="180.80" y1="197.50" x2="191.00" y2="197.50" stroke="#222" stroke-width="1.1"/>
<line x1="180.80" y1="252.50" x2="191.00" y2="252.50" stroke="#222" stroke-width="1.1"/>
<rect x="175.75" y="223.50" width="20.30" height="18.10" fill="#ff0000" stroke="#4a0000" stroke-width="1.0"/>
<line x1="175.75" y1="233.30" x2="196.05" y2="233.30" stroke="#4a0000" stroke-width="1.1"/>
<line x1="216.50" y1="199.60" x2="216.50" y2="226.20" stroke="#707070" stroke-width="1.1"/>
<line x1="216.50" y1="242.60" x2="216.50" y2="255.30" stroke="#707070" stroke-width="1.1"/>
<line x1="211.80" y1="199.50" x2="222.00" y2="199.50" stroke="#222" stroke-width="1.1"/>
<line x1="211.80" y1="255.50" x2="222.00" y2="255.50" stroke="#222" stroke-width="1.1"/>
<rect x="206.90" y="226.20" width="20.00" height="16.40" fill="#9a0000" stroke="#1a0000" stroke-width="1.0"/>
<line x1="206.90" y1="235.50" x2="226.90" y2="235.50" stroke="#1a0000" stroke-width="1.1"/>
<text x="185.90" y="194.80" font-size="6.8" text-anchor="middle" fill="#555">a</text>
<text x="216.90" y="197.20" font-size="6.8" text-anchor="middle" fill="#555">a</text>
<text x="153.90" y="269.00" font-size="5.2" text-anchor="middle" fill="#333" stroke="#333" stroke-width="0.12">Normal</text>
<text x="153.90" y="274.90" font-size="5.2" text-anchor="middle" fill="#333" stroke="#333" stroke-width="0.12">(n=50)</text>
<text x="185.00" y="269.00" font-size="5.2" text-anchor="middle" fill="#333" stroke="#333" stroke-width="0.12">Female</text>
<text x="185.00" y="274.90" font-size="5.2" text-anchor="middle" fill="#333" stroke="#333" stroke-width="0.12">(n=117)</text>
<text x="216.20" y="269.00" font-size="5.2" text-anchor="middle" fill="#333" stroke="#333" stroke-width="0.12">Male</text>
<text x="216.20" y="274.90" font-size="5.2" text-anchor="middle" fill="#333" stroke="#333" stroke-width="0.12">(n=245)</text>
<text x="185.50" y="283.80" font-size="6.5" text-anchor="middle" fill="#000" font-weight="bold" textLength="42.10" lengthAdjust="spacingAndGlyphs">TCGA samples</text>
<text x="238.10" y="174.90" font-size="8.4" text-anchor="start" fill="#000" font-weight="bold" textLength="6.80" lengthAdjust="spacingAndGlyphs">D</text>
<text x="344.5" y="174.2" font-size="6.5" font-weight="bold" text-anchor="middle" textLength="53.3" lengthAdjust="spacingAndGlyphs"><tspan font-style="italic">EIF4A1</tspan> expression</text>
<text x="344.60" y="181.30" font-size="6.5" text-anchor="middle" fill="#000" font-weight="bold" textLength="38.80" lengthAdjust="spacingAndGlyphs">based on age</text>
<text transform="translate(247.25,223.20) rotate(-90)" x="0" y="0" font-size="6.6" text-anchor="middle" fill="#000" font-weight="bold" textLength="62.40" lengthAdjust="spacingAndGlyphs">Transcript per million</text>
<line x1="263.50" y1="186.20" x2="263.50" y2="261.00" stroke="#222" stroke-width="1.3"/>
<line x1="260.60" y1="260.50" x2="263.50" y2="260.50" stroke="#222" stroke-width="1.0"/>
<text x="259.20" y="261.96" font-size="5.2" text-anchor="end" fill="#444">0</text>
<line x1="260.60" y1="248.20" x2="263.50" y2="248.20" stroke="#222" stroke-width="1.0"/>
<text x="259.20" y="249.66" font-size="5.2" text-anchor="end" fill="#444">100</text>
<line x1="260.60" y1="235.90" x2="263.50" y2="235.90" stroke="#222" stroke-width="1.0"/>
<text x="259.20" y="237.36" font-size="5.2" text-anchor="end" fill="#444">200</text>
<line x1="260.60" y1="223.60" x2="263.50" y2="223.60" stroke="#222" stroke-width="1.0"/>
<text x="259.20" y="225.06" font-size="5.2" text-anchor="end" fill="#444">300</text>
<line x1="260.60" y1="211.30" x2="263.50" y2="211.30" stroke="#222" stroke-width="1.0"/>
<text x="259.20" y="212.76" font-size="5.2" text-anchor="end" fill="#444">400</text>
<line x1="260.60" y1="199.00" x2="263.50" y2="199.00" stroke="#222" stroke-width="1.0"/>
<text x="259.20" y="200.46" font-size="5.2" text-anchor="end" fill="#444">500</text>
<line x1="260.60" y1="186.70" x2="263.50" y2="186.70" stroke="#222" stroke-width="1.0"/>
<text x="259.20" y="188.16" font-size="5.2" text-anchor="end" fill="#444">600</text>
<line x1="262.90" y1="260.50" x2="426.70" y2="260.50" stroke="#222" stroke-width="1.3"/>
<line x1="283.90" y1="260.50" x2="283.90" y2="263.50" stroke="#222" stroke-width="1.0"/>
<line x1="314.50" y1="260.50" x2="314.50" y2="263.50" stroke="#222" stroke-width="1.0"/>
<line x1="345.00" y1="260.50" x2="345.00" y2="263.50" stroke="#222" stroke-width="1.0"/>
<line x1="375.30" y1="260.50" x2="375.30" y2="263.50" stroke="#222" stroke-width="1.0"/>
<line x1="406.50" y1="260.50" x2="406.50" y2="263.50" stroke="#222" stroke-width="1.0"/>
<line x1="283.50" y1="227.60" x2="283.50" y2="238.60" stroke="#3a3a3a" stroke-width="1.1"/>
<line x1="283.50" y1="245.90" x2="283.50" y2="252.20" stroke="#3a3a3a" stroke-width="1.1"/>
<line x1="278.50" y1="227.50" x2="289.30" y2="227.50" stroke="#222" stroke-width="1.1"/>
<line x1="278.50" y1="252.50" x2="289.30" y2="252.50" stroke="#222" stroke-width="1.1"/>
<rect x="274.10" y="238.60" width="19.60" height="7.30" fill="#0000b8" stroke="#000030" stroke-width="1.0"/>
<line x1="274.10" y1="242.60" x2="293.70" y2="242.60" stroke="#000030" stroke-width="1.1"/>
<line x1="314.50" y1="197.50" x2="314.50" y2="217.60" stroke="#3a3a3a" stroke-width="1.1"/>
<line x1="314.50" y1="237.40" x2="314.50" y2="244.70" stroke="#3a3a3a" stroke-width="1.1"/>
<line x1="309.00" y1="197.50" x2="319.80" y2="197.50" stroke="#222" stroke-width="1.1"/>
<line x1="309.00" y1="244.50" x2="319.80" y2="244.50" stroke="#222" stroke-width="1.1"/>
<rect x="304.75" y="217.60" width="19.30" height="19.80" fill="#ffd9d9" stroke="#1a0000" stroke-width="1.0"/>
<line x1="304.75" y1="228.20" x2="324.05" y2="228.20" stroke="#1a0000" stroke-width="1.1"/>
<line x1="345.50" y1="200.00" x2="345.50" y2="223.90" stroke="#3a3a3a" stroke-width="1.1"/>
<line x1="345.50" y1="241.80" x2="345.50" y2="255.30" stroke="#3a3a3a" stroke-width="1.1"/>
<line x1="339.60" y1="200.50" x2="350.40" y2="200.50" stroke="#222" stroke-width="1.1"/>
<line x1="339.60" y1="255.50" x2="350.40" y2="255.50" stroke="#222" stroke-width="1.1"/>
<rect x="335.15" y="223.90" width="19.70" height="17.90" fill="#ff8080" stroke="#1a0000" stroke-width="1.0"/>
<line x1="335.15" y1="234.50" x2="354.85" y2="234.50" stroke="#1a0000" stroke-width="1.1"/>
<line x1="375.50" y1="200.00" x2="375.50" y2="227.60" stroke="#3a3a3a" stroke-width="1.1"/>
<line x1="375.50" y1="243.80" x2="375.50" y2="253.20" stroke="#3a3a3a" stroke-width="1.1"/>
<line x1="370.20" y1="200.50" x2="381.00" y2="200.50" stroke="#222" stroke-width="1.1"/>
<line x1="370.20" y1="253.50" x2="381.00" y2="253.50" stroke="#222" stroke-width="1.1"/>
<rect x="365.75" y="227.60" width="19.70" height="16.20" fill="#ff0000" stroke="#4a0000" stroke-width="1.0"/>
<line x1="365.75" y1="237.00" x2="385.45" y2="237.00" stroke="#4a0000" stroke-width="1.1"/>
<line x1="406.50" y1="201.00" x2="406.50" y2="228.70" stroke="#888" stroke-width="1.1"/>
<line x1="406.50" y1="245.30" x2="406.50" y2="248.40" stroke="#888" stroke-width="1.1"/>
<line x1="400.60" y1="201.50" x2="411.40" y2="201.50" stroke="#222" stroke-width="1.1"/>
<line x1="400.60" y1="248.50" x2="411.40" y2="248.50" stroke="#222" stroke-width="1.1"/>
<rect x="396.10" y="228.70" width="19.80" height="16.60" fill="#9a0000" stroke="#1a0000" stroke-width="1.0"/>
<line x1="396.10" y1="234.90" x2="415.90" y2="234.90" stroke="#1a0000" stroke-width="1.1"/>
<text x="314.40" y="195.10" font-size="6.8" text-anchor="middle" fill="#555">a</text>
<text x="345.00" y="197.60" font-size="6.8" text-anchor="middle" fill="#555">a</text>
<text x="375.60" y="197.60" font-size="6.8" text-anchor="middle" fill="#555">a,b</text>
<text x="283.20" y="269.10" font-size="5.2" text-anchor="middle" fill="#333" stroke="#333" stroke-width="0.12">Normal</text>
<text x="283.20" y="275.00" font-size="5.2" text-anchor="middle" fill="#333" stroke="#333" stroke-width="0.12">(n=50)</text>
<text x="313.80" y="269.10" font-size="5.2" text-anchor="middle" fill="#333" stroke="#333" stroke-width="0.12">21–40 Yrs</text>
<text x="313.80" y="275.00" font-size="5.2" text-anchor="middle" fill="#333" stroke="#333" stroke-width="0.12">(n=27)</text>
<text x="344.30" y="269.10" font-size="5.2" text-anchor="middle" fill="#333" stroke="#333" stroke-width="0.12">41–60 Yrs</text>
<text x="344.30" y="275.00" font-size="5.2" text-anchor="middle" fill="#333" stroke="#333" stroke-width="0.12">(n=140)</text>
<text x="374.60" y="269.10" font-size="5.2" text-anchor="middle" fill="#333" stroke="#333" stroke-width="0.12">61–80 Yrs</text>
<text x="374.60" y="275.00" font-size="5.2" text-anchor="middle" fill="#333" stroke="#333" stroke-width="0.12">(n=181)</text>
<text x="405.80" y="269.10" font-size="5.2" text-anchor="middle" fill="#333" stroke="#333" stroke-width="0.12">81–100 Yrs</text>
<text x="405.80" y="275.00" font-size="5.2" text-anchor="middle" fill="#333" stroke="#333" stroke-width="0.12">(n=10)</text>
<text x="345.00" y="283.80" font-size="6.5" text-anchor="middle" fill="#000" font-weight="bold" textLength="42.40" lengthAdjust="spacingAndGlyphs">TCGA samples</text>
<text x="33.70" y="302.90" font-size="8.4" text-anchor="start" fill="#000" font-weight="bold" textLength="6.40" lengthAdjust="spacingAndGlyphs">E</text>
<text x="113.20" y="303.30" font-size="6.6" text-anchor="start" fill="#000" font-weight="bold" textLength="47.90" lengthAdjust="spacingAndGlyphs">Overall&#160;&#160;survival</text>
<text transform="translate(42.10,345.30) rotate(-90)" x="0" y="0" font-size="6.4" text-anchor="middle" fill="#000" font-weight="bold" textLength="61.40" lengthAdjust="spacingAndGlyphs">Survival probability</text>
<line x1="60.20" y1="300.20" x2="60.20" y2="389.30" stroke="#222" stroke-width="1.3"/>
<line x1="59.60" y1="389.20" x2="214.60" y2="389.20" stroke="#222" stroke-width="1.3"/>
<line x1="57.00" y1="304.60" x2="60.20" y2="304.60" stroke="#222" stroke-width="1.0"/>
<text x="55.00" y="306.10" font-size="4.3" text-anchor="end" fill="#333">1.00</text>
<line x1="57.00" y1="324.70" x2="60.20" y2="324.70" stroke="#222" stroke-width="1.0"/>
<text x="55.00" y="326.20" font-size="4.3" text-anchor="end" fill="#333">0.75</text>
<line x1="57.00" y1="344.90" x2="60.20" y2="344.90" stroke="#222" stroke-width="1.0"/>
<text x="55.00" y="346.40" font-size="4.3" text-anchor="end" fill="#333">0.50</text>
<line x1="57.00" y1="365.30" x2="60.20" y2="365.30" stroke="#222" stroke-width="1.0"/>
<text x="55.00" y="366.80" font-size="4.3" text-anchor="end" fill="#333">0.25</text>
<line x1="57.00" y1="385.00" x2="60.20" y2="385.00" stroke="#222" stroke-width="1.0"/>
<text x="55.00" y="386.50" font-size="4.3" text-anchor="end" fill="#333">0.00</text>
<text x="79.30" y="396.30" font-size="4.3" text-anchor="middle" fill="#333">0</text>
<text x="111.90" y="396.30" font-size="4.3" text-anchor="middle" fill="#333">1000</text>
<text x="143.70" y="396.30" font-size="4.3" text-anchor="middle" fill="#333">2000</text>
<text x="176.10" y="396.30" font-size="4.3" text-anchor="middle" fill="#333">3000</text>
<text x="119.20" y="404.10" font-size="6.7" text-anchor="start" fill="#000" font-weight="bold" textLength="39.00" lengthAdjust="spacingAndGlyphs">Time&#160;&#160;in days</text>
<path d="M67.2,304.6 L69.0,304.6 L69.0,307.2 L70.7,307.2 L70.7,309.8 L71.8,309.8 L71.8,313.9 L72.9,313.9 L72.9,314.8 L74.1,314.8 L74.1,315.6 L75.5,315.6 L75.5,316.5 L77.0,316.5 L77.0,317.3 L78.7,317.3 L78.7,319.1 L79.3,321.9 L81.1,321.9 L81.1,324.2 L82.2,324.2 L82.2,327.1 L83.4,327.1 L83.4,329.4 L85.1,329.4 L85.1,330.6 L86.5,330.6 L86.5,331.2 L88.0,331.2 L88.0,331.8 L89.5,331.8 L89.5,332.4 L90.9,332.4 L90.9,332.9 L92.1,332.9 L92.1,333.8 L93.2,333.8 L93.2,334.6 L94.3,334.6 L94.3,336.4 L95.5,336.4 L95.5,338.1 L96.6,338.1 L96.6,339.8 L100.1,340.4 L101.5,340.4 L101.5,341.2 L103.0,341.2 L103.0,342.1 L104.5,342.1 L104.5,343.0 L105.9,343.0 L105.9,343.9 L108.0,344.1 L109.2,344.6 L109.7,346.9 L130.5,346.9 L130.5,350.4 L131.8,350.4 L131.8,350.4 L133.2,350.4 L133.2,350.5 L134.6,350.5 L134.6,350.5 L135.9,350.5 L135.9,350.6 L137.2,350.6 L137.2,350.6 L138.6,350.6 L138.6,350.7 L139.9,350.7 L139.9,350.8 L141.3,350.8 L141.3,350.8 L142.6,350.8 L142.6,350.9 L144.0,350.9 L144.0,350.9 L145.3,350.9 L145.3,350.9 L146.7,350.9 L146.7,351.0 L146.7,357.9 L160.3,357.9 L160.3,371.7 L196.3,371.7" fill="none" stroke="#f28585" stroke-width="0.9" stroke-linejoin="miter"/>
<path d="M67.2,304.6 L69.0,304.6 L69.0,307.2 L70.7,307.2 L70.7,309.8 L72.1,309.8 L72.1,310.4 L73.5,310.4 L73.5,311.0 L75.0,311.0 L75.0,311.9 L76.4,311.9 L76.4,312.7 L77.6,312.7 L77.6,313.9 L78.7,313.9 L78.7,315.0 L80.5,315.0 L80.5,316.1 L82.2,316.1 L82.2,317.3 L83.7,317.3 L83.7,318.2 L85.1,318.2 L85.1,319.1 L86.8,319.1 L86.8,320.2 L88.2,320.2 L88.2,321.0 L89.7,321.0 L89.7,321.9 L91.4,321.9 L91.4,324.2 L93.2,324.2 L93.2,325.4 L94.9,325.4 L94.9,326.2 L96.6,326.2 L96.6,327.1 L97.8,327.1 L97.8,328.6 L99.0,328.6 L99.0,330.0 L100.7,330.0 L100.7,330.3 L102.4,330.3 L102.4,330.6 L107.0,331.2 L108.2,331.2 L108.2,331.8 L109.3,331.8 L109.3,332.3 L110.4,332.3 L110.4,333.0 L111.5,333.0 L111.5,333.7 L113.2,333.7 L113.2,334.4 L114.9,334.4 L114.9,335.2 L116.7,335.2 L116.7,335.6 L118.4,335.6 L118.4,336.0 L120.1,336.0 L120.1,338.3 L121.5,338.3 L121.5,338.9 L122.8,338.9 L122.8,339.4 L124.2,339.4 L124.2,340.0 L125.9,340.0 L125.9,341.1 L127.6,341.1 L127.6,342.3 L129.3,342.3 L129.3,343.2 L131.1,343.2 L131.1,344.1 L132.4,344.1 L132.4,344.5 L133.8,344.5 L133.8,344.8 L135.1,344.8 L135.1,345.2 L136.9,345.2 L136.9,346.4 L146.1,346.9 L147.8,346.9 L147.8,348.1 L159.2,348.2 L159.2,350.9 L161.6,351.3 L161.9,357.9 L184.5,357.9 L184.5,363.4 L189.3,363.4 L189.3,368.9 L205.1,368.9" fill="none" stroke="#7d7df0" stroke-width="0.9" stroke-linejoin="miter"/>
<line x1="66.70" y1="368.50" x2="75.90" y2="368.50" stroke="#f2805a" stroke-width="0.9"/>
<line x1="66.70" y1="374.10" x2="75.90" y2="374.10" stroke="#6a8af0" stroke-width="0.9"/>
<text x="77.70" y="371.00" font-size="4.6" text-anchor="start" fill="#555" textLength="43.10" lengthAdjust="spacingAndGlyphs">High eIF4A1 (n = 89)</text>
<text x="77.70" y="376.10" font-size="4.5" text-anchor="start" fill="#555" textLength="60.10" lengthAdjust="spacingAndGlyphs">Low/medium eIF4A1 (n = 276)</text>
<text x="66.3" y="384.7" font-size="5.1" fill="#444" textLength="21.8" lengthAdjust="spacingAndGlyphs"><tspan font-style="italic">P</tspan> = 0.027</text>
<text x="216.40" y="303.10" font-size="8.4" text-anchor="start" fill="#000" font-weight="bold" textLength="5.40" lengthAdjust="spacingAndGlyphs">F</text>
<text x="324.6" y="301.9" font-size="6.5" font-weight="bold" text-anchor="middle" textLength="54.8" lengthAdjust="spacingAndGlyphs"><tspan font-style="italic">EIF4A1</tspan> expression</text>
<text x="324.50" y="309.10" font-size="6.5" text-anchor="middle" fill="#000" font-weight="bold" textLength="64.60" lengthAdjust="spacingAndGlyphs">based on tumor grade</text>
<text transform="translate(227.25,351.00) rotate(-90)" x="0" y="0" font-size="6.6" text-anchor="middle" fill="#000" font-weight="bold" textLength="62.50" lengthAdjust="spacingAndGlyphs">Transcript per million</text>
<line x1="243.00" y1="313.20" x2="243.00" y2="388.50" stroke="#222" stroke-width="1.3"/>
<line x1="240.10" y1="388.00" x2="243.00" y2="388.00" stroke="#222" stroke-width="1.0"/>
<text x="238.70" y="389.40" font-size="5.0" text-anchor="end" fill="#444">0</text>
<line x1="240.10" y1="369.43" x2="243.00" y2="369.43" stroke="#222" stroke-width="1.0"/>
<text x="238.70" y="370.82" font-size="5.0" text-anchor="end" fill="#444">200</text>
<line x1="240.10" y1="350.85" x2="243.00" y2="350.85" stroke="#222" stroke-width="1.0"/>
<text x="238.70" y="352.25" font-size="5.0" text-anchor="end" fill="#444">400</text>
<line x1="240.10" y1="332.27" x2="243.00" y2="332.27" stroke="#222" stroke-width="1.0"/>
<text x="238.70" y="333.67" font-size="5.0" text-anchor="end" fill="#444">600</text>
<line x1="240.10" y1="313.70" x2="243.00" y2="313.70" stroke="#222" stroke-width="1.0"/>
<text x="238.70" y="315.10" font-size="5.0" text-anchor="end" fill="#444">800</text>
<line x1="242.40" y1="388.00" x2="406.80" y2="388.00" stroke="#222" stroke-width="1.3"/>
<line x1="263.30" y1="388.00" x2="263.30" y2="390.90" stroke="#222" stroke-width="1.0"/>
<line x1="294.00" y1="388.00" x2="294.00" y2="390.90" stroke="#222" stroke-width="1.0"/>
<line x1="324.70" y1="388.00" x2="324.70" y2="390.90" stroke="#222" stroke-width="1.0"/>
<line x1="355.10" y1="388.00" x2="355.10" y2="390.90" stroke="#222" stroke-width="1.0"/>
<line x1="385.90" y1="388.00" x2="385.90" y2="390.90" stroke="#222" stroke-width="1.0"/>
<line x1="263.50" y1="363.20" x2="263.50" y2="371.50" stroke="#3a3a3a" stroke-width="1.1"/>
<line x1="263.50" y1="377.10" x2="263.50" y2="381.50" stroke="#3a3a3a" stroke-width="1.1"/>
<line x1="258.60" y1="363.50" x2="268.20" y2="363.50" stroke="#222" stroke-width="1.1"/>
<line x1="258.60" y1="381.50" x2="268.20" y2="381.50" stroke="#222" stroke-width="1.1"/>
<rect x="253.30" y="371.50" width="20.20" height="5.60" fill="#0000b8" stroke="#000030" stroke-width="1.0"/>
<line x1="253.30" y1="374.20" x2="273.50" y2="374.20" stroke="#000030" stroke-width="1.1"/>
<line x1="294.50" y1="353.20" x2="294.50" y2="365.30" stroke="#3a3a3a" stroke-width="1.1"/>
<line x1="294.50" y1="374.60" x2="294.50" y2="384.40" stroke="#3a3a3a" stroke-width="1.1"/>
<line x1="289.60" y1="353.50" x2="299.20" y2="353.50" stroke="#222" stroke-width="1.1"/>
<line x1="289.60" y1="384.50" x2="299.20" y2="384.50" stroke="#222" stroke-width="1.1"/>
<rect x="284.50" y="365.30" width="19.80" height="9.30" fill="#ffd9d9" stroke="#1a0000" stroke-width="1.0"/>
<line x1="284.50" y1="371.50" x2="304.30" y2="371.50" stroke="#1a0000" stroke-width="1.1"/>
<line x1="324.50" y1="346.20" x2="324.50" y2="362.40" stroke="#3a3a3a" stroke-width="1.1"/>
<line x1="324.50" y1="374.40" x2="324.50" y2="382.40" stroke="#3a3a3a" stroke-width="1.1"/>
<line x1="319.80" y1="346.50" x2="329.40" y2="346.50" stroke="#222" stroke-width="1.1"/>
<line x1="319.80" y1="382.50" x2="329.40" y2="382.50" stroke="#222" stroke-width="1.1"/>
<rect x="314.55" y="362.40" width="20.10" height="12.00" fill="#ff8080" stroke="#1a0000" stroke-width="1.0"/>
<line x1="314.55" y1="370.00" x2="334.65" y2="370.00" stroke="#1a0000" stroke-width="1.1"/>
<line x1="355.50" y1="332.80" x2="355.50" y2="358.90" stroke="#3a3a3a" stroke-width="1.1"/>
<line x1="355.50" y1="373.20" x2="355.50" y2="382.00" stroke="#3a3a3a" stroke-width="1.1"/>
<line x1="350.30" y1="332.50" x2="359.90" y2="332.50" stroke="#222" stroke-width="1.1"/>
<line x1="350.30" y1="382.50" x2="359.90" y2="382.50" stroke="#222" stroke-width="1.1"/>
<rect x="345.50" y="358.90" width="19.20" height="14.30" fill="#ff0000" stroke="#4a0000" stroke-width="1.0"/>
<line x1="345.50" y1="366.30" x2="364.70" y2="366.30" stroke="#4a0000" stroke-width="1.1"/>
<line x1="386.50" y1="344.60" x2="386.50" y2="355.90" stroke="#3a3a3a" stroke-width="1.1"/>
<line x1="386.50" y1="370.90" x2="386.50" y2="376.20" stroke="#3a3a3a" stroke-width="1.1"/>
<line x1="381.20" y1="344.50" x2="390.80" y2="344.50" stroke="#222" stroke-width="1.1"/>
<line x1="381.20" y1="376.50" x2="390.80" y2="376.50" stroke="#222" stroke-width="1.1"/>
<rect x="376.20" y="355.90" width="19.60" height="15.00" fill="#9a0000" stroke="#1a0000" stroke-width="1.0"/>
<line x1="376.20" y1="362.80" x2="395.80" y2="362.80" stroke="#1a0000" stroke-width="1.1"/>
<text x="294.40" y="350.80" font-size="6.8" text-anchor="middle" fill="#555">a</text>
<text x="324.60" y="343.80" font-size="6.8" text-anchor="middle" fill="#555">a</text>
<text x="355.10" y="330.40" font-size="6.8" text-anchor="middle" fill="#555">a,b,c</text>
<text x="386.00" y="343.00" font-size="6.8" text-anchor="middle" fill="#555">a,b,c</text>
<text x="262.60" y="396.60" font-size="5.2" text-anchor="middle" fill="#333" stroke="#333" stroke-width="0.12">Normal</text>
<text x="262.60" y="402.50" font-size="5.2" text-anchor="middle" fill="#333" stroke="#333" stroke-width="0.12">(n=50)</text>
<text x="293.30" y="396.60" font-size="5.2" text-anchor="middle" fill="#333" stroke="#333" stroke-width="0.12">Grade 1</text>
<text x="293.30" y="402.50" font-size="5.2" text-anchor="middle" fill="#333" stroke="#333" stroke-width="0.12">(n=54)</text>
<text x="324.00" y="396.60" font-size="5.2" text-anchor="middle" fill="#333" stroke="#333" stroke-width="0.12">Grade 2</text>
<text x="324.00" y="402.50" font-size="5.2" text-anchor="middle" fill="#333" stroke="#333" stroke-width="0.12">(n=173)</text>
<text x="354.40" y="396.60" font-size="5.2" text-anchor="middle" fill="#333" stroke="#333" stroke-width="0.12">Grade 3</text>
<text x="354.40" y="402.50" font-size="5.2" text-anchor="middle" fill="#333" stroke="#333" stroke-width="0.12">(n=118)</text>
<text x="385.20" y="396.60" font-size="5.2" text-anchor="middle" fill="#333" stroke="#333" stroke-width="0.12">Grade 4</text>
<text x="385.20" y="402.50" font-size="5.2" text-anchor="middle" fill="#333" stroke="#333" stroke-width="0.12">(n=12)</text>
<text x="324.80" y="411.90" font-size="6.5" text-anchor="middle" fill="#000" font-weight="bold" textLength="42.00" lengthAdjust="spacingAndGlyphs">TCGA samples</text>
<text x="50.50" y="430.40" font-size="8.4" text-anchor="start" fill="#000" font-weight="bold" textLength="6.80" lengthAdjust="spacingAndGlyphs">G</text>
<text x="159.5" y="431.6" font-size="6.5" font-weight="bold" text-anchor="middle" textLength="54.6" lengthAdjust="spacingAndGlyphs"><tspan font-style="italic">EIF4A1</tspan> expression</text>
<text x="159.40" y="438.90" font-size="6.5" text-anchor="middle" fill="#000" font-weight="bold" textLength="96.40" lengthAdjust="spacingAndGlyphs">based on individual cancer stage</text>
<text transform="translate(62.45,481.40) rotate(-90)" x="0" y="0" font-size="6.6" text-anchor="middle" fill="#000" font-weight="bold" textLength="63.40" lengthAdjust="spacingAndGlyphs">Transcript per million</text>
<line x1="78.20" y1="443.68" x2="78.20" y2="519.40" stroke="#222" stroke-width="1.3"/>
<line x1="75.30" y1="518.90" x2="78.20" y2="518.90" stroke="#222" stroke-width="1.0"/>
<text x="73.60" y="520.24" font-size="4.8" text-anchor="end" fill="#444">0</text>
<line x1="75.30" y1="509.56" x2="78.20" y2="509.56" stroke="#222" stroke-width="1.0"/>
<text x="73.60" y="510.90" font-size="4.8" text-anchor="end" fill="#444">100</text>
<line x1="75.30" y1="500.22" x2="78.20" y2="500.22" stroke="#222" stroke-width="1.0"/>
<text x="73.60" y="501.56" font-size="4.8" text-anchor="end" fill="#444">200</text>
<line x1="75.30" y1="490.88" x2="78.20" y2="490.88" stroke="#222" stroke-width="1.0"/>
<text x="73.60" y="492.22" font-size="4.8" text-anchor="end" fill="#444">300</text>
<line x1="75.30" y1="481.54" x2="78.20" y2="481.54" stroke="#222" stroke-width="1.0"/>
<text x="73.60" y="482.88" font-size="4.8" text-anchor="end" fill="#444">400</text>
<line x1="75.30" y1="472.20" x2="78.20" y2="472.20" stroke="#222" stroke-width="1.0"/>
<text x="73.60" y="473.54" font-size="4.8" text-anchor="end" fill="#444">500</text>
<line x1="75.30" y1="462.86" x2="78.20" y2="462.86" stroke="#222" stroke-width="1.0"/>
<text x="73.60" y="464.20" font-size="4.8" text-anchor="end" fill="#444">600</text>
<line x1="75.30" y1="453.52" x2="78.20" y2="453.52" stroke="#222" stroke-width="1.0"/>
<text x="73.60" y="454.86" font-size="4.8" text-anchor="end" fill="#444">700</text>
<line x1="75.30" y1="444.18" x2="78.20" y2="444.18" stroke="#222" stroke-width="1.0"/>
<text x="73.60" y="445.52" font-size="4.8" text-anchor="end" fill="#444">800</text>
<line x1="77.60" y1="518.90" x2="241.80" y2="518.90" stroke="#222" stroke-width="1.3"/>
<line x1="98.90" y1="518.90" x2="98.90" y2="521.80" stroke="#222" stroke-width="1.0"/>
<line x1="129.40" y1="518.90" x2="129.40" y2="521.80" stroke="#222" stroke-width="1.0"/>
<line x1="159.90" y1="518.90" x2="159.90" y2="521.80" stroke="#222" stroke-width="1.0"/>
<line x1="190.20" y1="518.90" x2="190.20" y2="521.80" stroke="#222" stroke-width="1.0"/>
<line x1="220.90" y1="518.90" x2="220.90" y2="521.80" stroke="#222" stroke-width="1.0"/>
<line x1="98.50" y1="493.90" x2="98.50" y2="502.40" stroke="#3a3a3a" stroke-width="1.1"/>
<line x1="98.50" y1="508.20" x2="98.50" y2="512.80" stroke="#3a3a3a" stroke-width="1.1"/>
<line x1="93.70" y1="493.50" x2="104.10" y2="493.50" stroke="#222" stroke-width="1.1"/>
<line x1="93.70" y1="512.50" x2="104.10" y2="512.50" stroke="#222" stroke-width="1.1"/>
<rect x="89.10" y="502.40" width="19.60" height="5.80" fill="#0000b8" stroke="#000030" stroke-width="1.0"/>
<line x1="89.10" y1="505.50" x2="108.70" y2="505.50" stroke="#000030" stroke-width="1.1"/>
<line x1="129.50" y1="474.00" x2="129.50" y2="494.60" stroke="#3a3a3a" stroke-width="1.1"/>
<line x1="129.50" y1="505.60" x2="129.50" y2="513.40" stroke="#3a3a3a" stroke-width="1.1"/>
<line x1="124.20" y1="474.50" x2="134.60" y2="474.50" stroke="#222" stroke-width="1.1"/>
<line x1="124.20" y1="513.50" x2="134.60" y2="513.50" stroke="#222" stroke-width="1.1"/>
<rect x="119.70" y="494.60" width="19.40" height="11.00" fill="#ffd9d9" stroke="#1a0000" stroke-width="1.0"/>
<line x1="119.70" y1="501.20" x2="139.10" y2="501.20" stroke="#1a0000" stroke-width="1.1"/>
<line x1="159.50" y1="476.90" x2="159.50" y2="493.50" stroke="#3a3a3a" stroke-width="1.1"/>
<line x1="159.50" y1="504.30" x2="159.50" y2="511.20" stroke="#3a3a3a" stroke-width="1.1"/>
<line x1="154.70" y1="476.50" x2="165.10" y2="476.50" stroke="#222" stroke-width="1.1"/>
<line x1="154.70" y1="511.50" x2="165.10" y2="511.50" stroke="#222" stroke-width="1.1"/>
<rect x="150.20" y="493.50" width="19.40" height="10.80" fill="#ff8080" stroke="#1a0000" stroke-width="1.0"/>
<line x1="150.20" y1="499.00" x2="169.60" y2="499.00" stroke="#1a0000" stroke-width="1.1"/>
<line x1="190.50" y1="460.00" x2="190.50" y2="485.80" stroke="#3a3a3a" stroke-width="1.1"/>
<line x1="190.50" y1="503.80" x2="190.50" y2="514.60" stroke="#3a3a3a" stroke-width="1.1"/>
<line x1="185.00" y1="460.50" x2="195.40" y2="460.50" stroke="#222" stroke-width="1.1"/>
<line x1="185.00" y1="514.50" x2="195.40" y2="514.50" stroke="#222" stroke-width="1.1"/>
<rect x="180.25" y="485.80" width="19.90" height="18.00" fill="#ff0000" stroke="#4a0000" stroke-width="1.0"/>
<line x1="180.25" y1="497.50" x2="200.15" y2="497.50" stroke="#4a0000" stroke-width="1.1"/>
<line x1="221.50" y1="486.40" x2="221.50" y2="489.50" stroke="#3a3a3a" stroke-width="1.1"/>
<line x1="221.50" y1="506.30" x2="221.50" y2="509.10" stroke="#3a3a3a" stroke-width="1.1"/>
<line x1="215.80" y1="486.50" x2="226.20" y2="486.50" stroke="#222" stroke-width="1.1"/>
<line x1="215.80" y1="509.50" x2="226.20" y2="509.50" stroke="#222" stroke-width="1.1"/>
<rect x="211.00" y="489.50" width="20.00" height="16.80" fill="#9a0000" stroke="#1a0000" stroke-width="1.0"/>
<line x1="211.00" y1="498.80" x2="231.00" y2="498.80" stroke="#1a0000" stroke-width="1.1"/>
<text x="129.40" y="472.00" font-size="6.8" text-anchor="middle" fill="#555">a</text>
<text x="159.90" y="475.50" font-size="6.8" text-anchor="middle" fill="#555">a</text>
<text x="190.20" y="458.60" font-size="6.8" text-anchor="middle" fill="#555">a,b</text>
<text x="98.20" y="527.90" font-size="5.2" text-anchor="middle" fill="#333" stroke="#333" stroke-width="0.12">Normal</text>
<text x="98.20" y="533.60" font-size="5.2" text-anchor="middle" fill="#333" stroke="#333" stroke-width="0.12">(n=50)</text>
<text x="128.70" y="527.90" font-size="5.2" text-anchor="middle" fill="#333" stroke="#333" stroke-width="0.12">Stage 1</text>
<text x="128.70" y="533.60" font-size="5.2" text-anchor="middle" fill="#333" stroke="#333" stroke-width="0.12">(n=168)</text>
<text x="159.20" y="527.90" font-size="5.2" text-anchor="middle" fill="#333" stroke="#333" stroke-width="0.12">Stage 2</text>
<text x="159.20" y="533.60" font-size="5.2" text-anchor="middle" fill="#333" stroke="#333" stroke-width="0.12">(n=84)</text>
<text x="189.50" y="527.90" font-size="5.2" text-anchor="middle" fill="#333" stroke="#333" stroke-width="0.12">Stage 3</text>
<text x="189.50" y="533.60" font-size="5.2" text-anchor="middle" fill="#333" stroke="#333" stroke-width="0.12">(n=82)</text>
<text x="220.20" y="527.90" font-size="5.2" text-anchor="middle" fill="#333" stroke="#333" stroke-width="0.12">Stage 4</text>
<text x="220.20" y="533.60" font-size="5.2" text-anchor="middle" fill="#333" stroke="#333" stroke-width="0.12">(n=6)</text>
<text x="159.55" y="542.60" font-size="6.5" text-anchor="middle" fill="#000" font-weight="bold" textLength="41.90" lengthAdjust="spacingAndGlyphs">TCGA samples</text>
<text x="246.60" y="430.40" font-size="8.4" text-anchor="start" fill="#000" font-weight="bold" textLength="6.60" lengthAdjust="spacingAndGlyphs">H</text>
<text x="324.55" y="431.6" font-size="6.5" font-weight="bold" text-anchor="middle" textLength="54.9" lengthAdjust="spacingAndGlyphs"><tspan font-style="italic">EIF4A1</tspan> expression</text>
<text x="324.25" y="438.90" font-size="6.5" text-anchor="middle" fill="#000" font-weight="bold" textLength="98.10" lengthAdjust="spacingAndGlyphs">based on nodal metastasis status</text>
<text transform="translate(256.55,481.60) rotate(-90)" x="0" y="0" font-size="6.6" text-anchor="middle" fill="#000" font-weight="bold" textLength="64.30" lengthAdjust="spacingAndGlyphs">Transcript per million</text>
<line x1="272.70" y1="443.50" x2="272.70" y2="518.90" stroke="#222" stroke-width="1.3"/>
<line x1="269.80" y1="518.40" x2="272.70" y2="518.40" stroke="#222" stroke-width="1.0"/>
<text x="268.80" y="519.72" font-size="4.7" text-anchor="end" fill="#444">0</text>
<line x1="269.80" y1="506.00" x2="272.70" y2="506.00" stroke="#222" stroke-width="1.0"/>
<text x="268.80" y="507.32" font-size="4.7" text-anchor="end" fill="#444">100</text>
<line x1="269.80" y1="493.60" x2="272.70" y2="493.60" stroke="#222" stroke-width="1.0"/>
<text x="268.80" y="494.92" font-size="4.7" text-anchor="end" fill="#444">200</text>
<line x1="269.80" y1="481.20" x2="272.70" y2="481.20" stroke="#222" stroke-width="1.0"/>
<text x="268.80" y="482.52" font-size="4.7" text-anchor="end" fill="#444">300</text>
<line x1="269.80" y1="468.80" x2="272.70" y2="468.80" stroke="#222" stroke-width="1.0"/>
<text x="268.80" y="470.12" font-size="4.7" text-anchor="end" fill="#444">400</text>
<line x1="269.80" y1="456.40" x2="272.70" y2="456.40" stroke="#222" stroke-width="1.0"/>
<text x="268.80" y="457.72" font-size="4.7" text-anchor="end" fill="#444">500</text>
<line x1="269.80" y1="444.00" x2="272.70" y2="444.00" stroke="#222" stroke-width="1.0"/>
<text x="268.80" y="445.32" font-size="4.7" text-anchor="end" fill="#444">600</text>
<line x1="272.10" y1="518.40" x2="376.90" y2="518.40" stroke="#222" stroke-width="1.3"/>
<line x1="293.60" y1="518.40" x2="293.60" y2="521.40" stroke="#222" stroke-width="1.0"/>
<line x1="324.80" y1="518.40" x2="324.80" y2="521.40" stroke="#222" stroke-width="1.0"/>
<line x1="356.00" y1="518.40" x2="356.00" y2="521.40" stroke="#222" stroke-width="1.0"/>
<line x1="293.50" y1="485.40" x2="293.50" y2="496.20" stroke="#3a3a3a" stroke-width="1.1"/>
<line x1="293.50" y1="503.60" x2="293.50" y2="510.10" stroke="#3a3a3a" stroke-width="1.1"/>
<line x1="288.70" y1="485.50" x2="299.10" y2="485.50" stroke="#222" stroke-width="1.1"/>
<line x1="288.70" y1="510.50" x2="299.10" y2="510.50" stroke="#222" stroke-width="1.1"/>
<rect x="283.85" y="496.20" width="20.10" height="7.40" fill="#0000b8" stroke="#000030" stroke-width="1.0"/>
<line x1="283.85" y1="499.70" x2="303.95" y2="499.70" stroke="#000030" stroke-width="1.1"/>
<line x1="324.50" y1="455.10" x2="324.50" y2="483.40" stroke="#3a3a3a" stroke-width="1.1"/>
<line x1="324.50" y1="500.30" x2="324.50" y2="512.90" stroke="#3a3a3a" stroke-width="1.1"/>
<line x1="319.40" y1="455.50" x2="329.80" y2="455.50" stroke="#222" stroke-width="1.1"/>
<line x1="319.40" y1="512.50" x2="329.80" y2="512.50" stroke="#222" stroke-width="1.1"/>
<rect x="314.45" y="483.40" width="20.30" height="16.90" fill="#ff0000" stroke="#4a0000" stroke-width="1.0"/>
<line x1="314.45" y1="493.20" x2="334.75" y2="493.20" stroke="#4a0000" stroke-width="1.1"/>
<line x1="355.50" y1="475.80" x2="355.50" y2="476.20" stroke="#3a3a3a" stroke-width="1.1"/>
<line x1="355.50" y1="491.40" x2="355.50" y2="494.70" stroke="#3a3a3a" stroke-width="1.1"/>
<line x1="352.60" y1="475.50" x2="359.00" y2="475.50" stroke="#222" stroke-width="1.1"/>
<line x1="352.60" y1="494.50" x2="359.00" y2="494.50" stroke="#222" stroke-width="1.1"/>
<rect x="345.75" y="476.20" width="20.10" height="15.20" fill="#9a0000" stroke="#1a0000" stroke-width="1.0"/>
<line x1="345.75" y1="483.40" x2="365.85" y2="483.40" stroke="#1a0000" stroke-width="1.1"/>
<text x="324.60" y="452.70" font-size="6.8" text-anchor="middle" fill="#555">a</text>
<text x="355.80" y="473.40" font-size="6.8" text-anchor="middle" fill="#555">a</text>
<text x="292.90" y="527.20" font-size="5.2" text-anchor="middle" fill="#333" stroke="#333" stroke-width="0.12">Normal</text>
<text x="292.90" y="533.10" font-size="5.2" text-anchor="middle" fill="#333" stroke="#333" stroke-width="0.12">(n=50)</text>
<text x="324.10" y="527.20" font-size="5.2" text-anchor="middle" fill="#333" stroke="#333" stroke-width="0.12">N0</text>
<text x="324.10" y="533.10" font-size="5.2" text-anchor="middle" fill="#333" stroke="#333" stroke-width="0.12">(n=252)</text>
<text x="355.30" y="527.20" font-size="5.2" text-anchor="middle" fill="#333" stroke="#333" stroke-width="0.12">N1</text>
<text x="355.30" y="533.10" font-size="5.2" text-anchor="middle" fill="#333" stroke="#333" stroke-width="0.12">(n=4)</text>
<text x="324.40" y="542.10" font-size="6.5" text-anchor="middle" fill="#000" font-weight="bold" textLength="41.60" lengthAdjust="spacingAndGlyphs">TCGA samples</text>
</svg>
</body></html>
